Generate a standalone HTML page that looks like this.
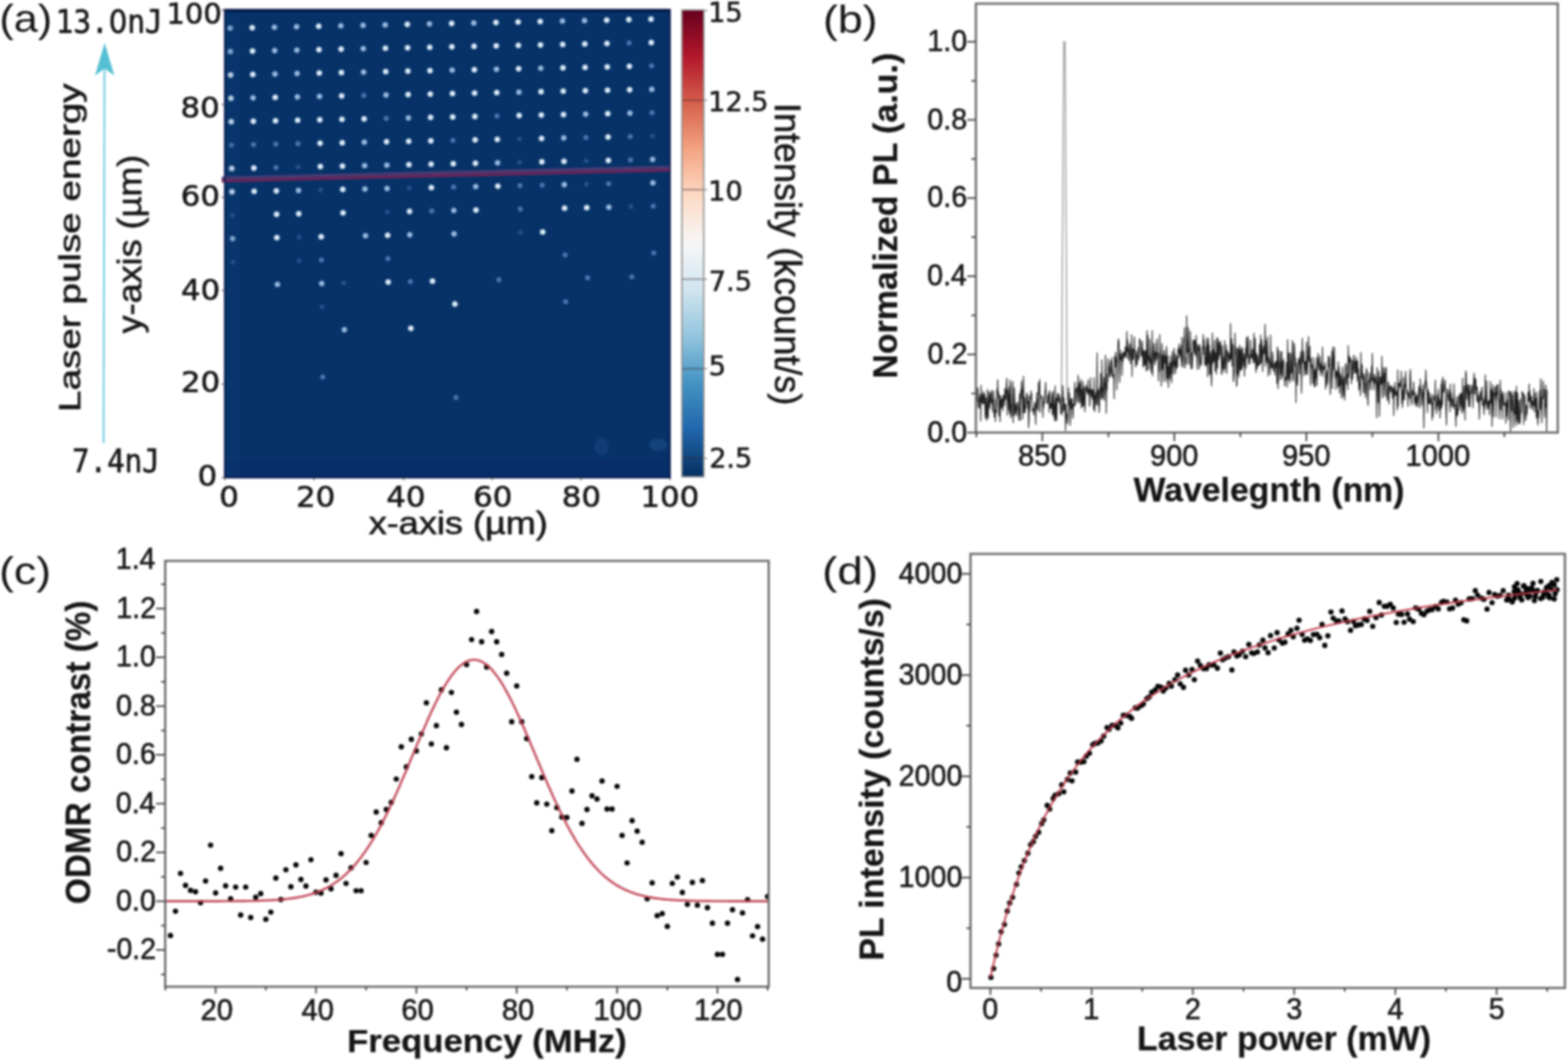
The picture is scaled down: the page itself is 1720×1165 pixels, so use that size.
<!DOCTYPE html><html><head><meta charset="utf-8"><title>Figure</title><style>html,body{margin:0;padding:0;background:#fff;overflow:hidden}svg{display:block}.wrap{filter:blur(0.8px)}text{stroke:#151515;stroke-width:0.6px;paint-order:stroke}</style></head><body>
<div class="wrap">
<svg width="1720" height="1165" viewBox="0 0 1720 1165">
<rect width="1720" height="1165" fill="#fff"/>
<defs>
<linearGradient id="cb" x1="0" y1="0" x2="0" y2="1">
<stop offset="0.00" stop-color="rgb(103, 0, 31)"/>
<stop offset="0.10" stop-color="rgb(178, 24, 43)"/>
<stop offset="0.20" stop-color="rgb(214, 96, 77)"/>
<stop offset="0.30" stop-color="rgb(244, 165, 130)"/>
<stop offset="0.40" stop-color="rgb(253, 219, 199)"/>
<stop offset="0.50" stop-color="rgb(247, 247, 247)"/>
<stop offset="0.60" stop-color="rgb(209, 229, 240)"/>
<stop offset="0.70" stop-color="rgb(146, 197, 222)"/>
<stop offset="0.80" stop-color="rgb(67, 147, 195)"/>
<stop offset="0.90" stop-color="rgb(33, 102, 172)"/>
<stop offset="1.00" stop-color="rgb(5, 48, 97)"/>
</linearGradient>
<radialGradient id="d3"><stop offset="0" stop-color="rgb(228, 242, 255)" stop-opacity="1.0"/><stop offset="0.55" stop-color="rgb(228, 242, 255)" stop-opacity="0.95"/><stop offset="1" stop-color="rgb(228, 242, 255)" stop-opacity="0"/></radialGradient>
<radialGradient id="d2"><stop offset="0" stop-color="rgb(165, 198, 235)" stop-opacity="0.95"/><stop offset="0.55" stop-color="rgb(165, 198, 235)" stop-opacity="0.9025"/><stop offset="1" stop-color="rgb(165, 198, 235)" stop-opacity="0"/></radialGradient>
<radialGradient id="d1"><stop offset="0" stop-color="rgb(85, 128, 188)" stop-opacity="0.9"/><stop offset="0.55" stop-color="rgb(85, 128, 188)" stop-opacity="0.855"/><stop offset="1" stop-color="rgb(85, 128, 188)" stop-opacity="0"/></radialGradient>
<radialGradient id="d0"><stop offset="0" stop-color="rgb(45, 88, 148)" stop-opacity="0.85"/><stop offset="0.55" stop-color="rgb(45, 88, 148)" stop-opacity="0.8075"/><stop offset="1" stop-color="rgb(45, 88, 148)" stop-opacity="0"/></radialGradient>
<clipPath id="hclip"><rect x="246.5" y="10.5" width="488.5" height="513.5"/></clipPath>
</defs>
<rect x="246.5" y="10.5" width="488.5" height="513.5" fill="rgb(6,50,104)"/>
<g clip-path="url(#hclip)">
<circle cx="252.4" cy="30.9" r="3.9" fill="url(#d2)"/>
<circle cx="276.7" cy="30.4" r="4.0" fill="url(#d3)"/>
<circle cx="301.0" cy="29.9" r="3.9" fill="url(#d2)"/>
<circle cx="325.3" cy="29.3" r="3.9" fill="url(#d2)"/>
<circle cx="349.6" cy="28.8" r="4.0" fill="url(#d3)"/>
<circle cx="373.9" cy="28.3" r="3.9" fill="url(#d2)"/>
<circle cx="398.2" cy="27.8" r="3.9" fill="url(#d2)"/>
<circle cx="422.5" cy="27.3" r="3.9" fill="url(#d2)"/>
<circle cx="446.8" cy="26.7" r="4.0" fill="url(#d3)"/>
<circle cx="471.1" cy="26.2" r="3.9" fill="url(#d2)"/>
<circle cx="495.4" cy="25.7" r="4.0" fill="url(#d3)"/>
<circle cx="519.7" cy="25.2" r="3.9" fill="url(#d2)"/>
<circle cx="544.0" cy="24.7" r="4.0" fill="url(#d3)"/>
<circle cx="568.3" cy="24.1" r="4.0" fill="url(#d3)"/>
<circle cx="592.6" cy="23.6" r="4.0" fill="url(#d3)"/>
<circle cx="616.9" cy="23.1" r="3.9" fill="url(#d2)"/>
<circle cx="641.2" cy="22.6" r="3.9" fill="url(#d2)"/>
<circle cx="665.5" cy="22.1" r="4.0" fill="url(#d3)"/>
<circle cx="689.8" cy="21.5" r="4.0" fill="url(#d3)"/>
<circle cx="714.1" cy="21.0" r="4.0" fill="url(#d3)"/>
<circle cx="738.4" cy="20.5" r="3.6" fill="url(#d1)"/>
<circle cx="252.7" cy="56.5" r="3.9" fill="url(#d2)"/>
<circle cx="277.0" cy="56.0" r="4.0" fill="url(#d3)"/>
<circle cx="301.3" cy="55.5" r="3.9" fill="url(#d2)"/>
<circle cx="325.6" cy="55.0" r="3.9" fill="url(#d2)"/>
<circle cx="349.9" cy="54.5" r="4.0" fill="url(#d3)"/>
<circle cx="374.2" cy="53.9" r="4.0" fill="url(#d3)"/>
<circle cx="398.5" cy="53.4" r="3.9" fill="url(#d2)"/>
<circle cx="422.8" cy="52.9" r="4.0" fill="url(#d3)"/>
<circle cx="447.1" cy="52.4" r="4.0" fill="url(#d3)"/>
<circle cx="471.4" cy="51.9" r="4.0" fill="url(#d3)"/>
<circle cx="495.7" cy="51.3" r="4.0" fill="url(#d3)"/>
<circle cx="520.0" cy="50.8" r="4.0" fill="url(#d3)"/>
<circle cx="544.3" cy="50.3" r="4.0" fill="url(#d3)"/>
<circle cx="568.6" cy="49.8" r="4.0" fill="url(#d3)"/>
<circle cx="592.9" cy="49.3" r="4.0" fill="url(#d3)"/>
<circle cx="617.2" cy="48.8" r="4.0" fill="url(#d3)"/>
<circle cx="641.5" cy="48.2" r="4.0" fill="url(#d3)"/>
<circle cx="665.8" cy="47.7" r="4.0" fill="url(#d3)"/>
<circle cx="690.1" cy="47.2" r="3.6" fill="url(#d1)"/>
<circle cx="714.4" cy="46.7" r="4.0" fill="url(#d3)"/>
<circle cx="738.7" cy="46.1" r="3.6" fill="url(#d1)"/>
<circle cx="253.0" cy="82.2" r="4.0" fill="url(#d3)"/>
<circle cx="277.3" cy="81.7" r="4.0" fill="url(#d3)"/>
<circle cx="301.6" cy="81.2" r="3.9" fill="url(#d2)"/>
<circle cx="325.9" cy="80.6" r="3.9" fill="url(#d2)"/>
<circle cx="350.2" cy="80.1" r="4.0" fill="url(#d3)"/>
<circle cx="374.5" cy="79.6" r="4.0" fill="url(#d3)"/>
<circle cx="398.8" cy="79.1" r="3.9" fill="url(#d2)"/>
<circle cx="423.1" cy="78.6" r="4.0" fill="url(#d3)"/>
<circle cx="447.4" cy="78.0" r="4.0" fill="url(#d3)"/>
<circle cx="471.7" cy="77.5" r="4.0" fill="url(#d3)"/>
<circle cx="496.0" cy="77.0" r="3.9" fill="url(#d2)"/>
<circle cx="520.3" cy="76.5" r="4.0" fill="url(#d3)"/>
<circle cx="544.6" cy="76.0" r="3.9" fill="url(#d2)"/>
<circle cx="568.9" cy="75.4" r="4.0" fill="url(#d3)"/>
<circle cx="593.2" cy="74.9" r="3.9" fill="url(#d2)"/>
<circle cx="617.5" cy="74.4" r="4.0" fill="url(#d3)"/>
<circle cx="641.8" cy="73.9" r="4.0" fill="url(#d3)"/>
<circle cx="666.1" cy="73.4" r="4.0" fill="url(#d3)"/>
<circle cx="690.4" cy="72.8" r="4.0" fill="url(#d3)"/>
<circle cx="714.7" cy="72.3" r="3.6" fill="url(#d1)"/>
<circle cx="739.0" cy="71.8" r="3.6" fill="url(#d1)"/>
<circle cx="253.3" cy="107.8" r="4.0" fill="url(#d3)"/>
<circle cx="277.6" cy="107.3" r="3.9" fill="url(#d2)"/>
<circle cx="301.9" cy="106.8" r="4.0" fill="url(#d3)"/>
<circle cx="326.2" cy="106.3" r="3.9" fill="url(#d2)"/>
<circle cx="350.5" cy="105.8" r="3.9" fill="url(#d2)"/>
<circle cx="374.8" cy="105.2" r="4.0" fill="url(#d3)"/>
<circle cx="399.1" cy="104.7" r="3.6" fill="url(#d1)"/>
<circle cx="423.4" cy="104.2" r="3.9" fill="url(#d2)"/>
<circle cx="447.7" cy="103.7" r="4.0" fill="url(#d3)"/>
<circle cx="472.0" cy="103.2" r="4.0" fill="url(#d3)"/>
<circle cx="496.3" cy="102.6" r="4.0" fill="url(#d3)"/>
<circle cx="520.6" cy="102.1" r="4.0" fill="url(#d3)"/>
<circle cx="544.9" cy="101.6" r="4.0" fill="url(#d3)"/>
<circle cx="569.2" cy="101.1" r="3.9" fill="url(#d2)"/>
<circle cx="593.5" cy="100.6" r="4.0" fill="url(#d3)"/>
<circle cx="617.8" cy="100.0" r="4.0" fill="url(#d3)"/>
<circle cx="642.1" cy="99.5" r="4.0" fill="url(#d3)"/>
<circle cx="666.4" cy="99.0" r="4.0" fill="url(#d3)"/>
<circle cx="690.7" cy="98.5" r="4.0" fill="url(#d3)"/>
<circle cx="715.0" cy="98.0" r="3.9" fill="url(#d2)"/>
<circle cx="739.3" cy="97.4" r="3.6" fill="url(#d1)"/>
<circle cx="253.6" cy="133.5" r="4.0" fill="url(#d3)"/>
<circle cx="277.9" cy="133.0" r="4.0" fill="url(#d3)"/>
<circle cx="302.2" cy="132.5" r="4.0" fill="url(#d3)"/>
<circle cx="326.5" cy="131.9" r="4.0" fill="url(#d3)"/>
<circle cx="350.8" cy="131.4" r="4.0" fill="url(#d3)"/>
<circle cx="375.1" cy="130.9" r="4.0" fill="url(#d3)"/>
<circle cx="399.4" cy="130.4" r="4.0" fill="url(#d3)"/>
<circle cx="423.7" cy="129.9" r="3.6" fill="url(#d1)"/>
<circle cx="448.0" cy="129.3" r="3.9" fill="url(#d2)"/>
<circle cx="472.3" cy="128.8" r="4.0" fill="url(#d3)"/>
<circle cx="496.6" cy="128.3" r="4.0" fill="url(#d3)"/>
<circle cx="520.9" cy="127.8" r="4.0" fill="url(#d3)"/>
<circle cx="545.2" cy="127.3" r="3.6" fill="url(#d1)"/>
<circle cx="569.5" cy="126.7" r="4.0" fill="url(#d3)"/>
<circle cx="593.8" cy="126.2" r="4.0" fill="url(#d3)"/>
<circle cx="618.1" cy="125.7" r="4.0" fill="url(#d3)"/>
<circle cx="642.4" cy="125.2" r="3.9" fill="url(#d2)"/>
<circle cx="666.7" cy="124.7" r="4.0" fill="url(#d3)"/>
<circle cx="691.0" cy="124.1" r="3.9" fill="url(#d2)"/>
<circle cx="715.3" cy="123.6" r="3.6" fill="url(#d1)"/>
<circle cx="253.9" cy="159.2" r="3.6" fill="url(#d1)"/>
<circle cx="278.2" cy="158.6" r="3.6" fill="url(#d1)"/>
<circle cx="302.5" cy="158.1" r="3.6" fill="url(#d1)"/>
<circle cx="326.8" cy="157.6" r="3.6" fill="url(#d1)"/>
<circle cx="351.1" cy="157.1" r="4.0" fill="url(#d3)"/>
<circle cx="375.4" cy="156.6" r="4.0" fill="url(#d3)"/>
<circle cx="399.7" cy="156.0" r="3.9" fill="url(#d2)"/>
<circle cx="424.0" cy="155.5" r="4.0" fill="url(#d3)"/>
<circle cx="448.3" cy="155.0" r="4.0" fill="url(#d3)"/>
<circle cx="472.6" cy="154.5" r="4.0" fill="url(#d3)"/>
<circle cx="496.9" cy="154.0" r="3.6" fill="url(#d1)"/>
<circle cx="521.2" cy="153.4" r="4.0" fill="url(#d3)"/>
<circle cx="545.5" cy="152.9" r="4.0" fill="url(#d3)"/>
<circle cx="569.8" cy="152.4" r="3.4" fill="url(#d0)"/>
<circle cx="594.1" cy="151.9" r="4.0" fill="url(#d3)"/>
<circle cx="618.4" cy="151.3" r="3.9" fill="url(#d2)"/>
<circle cx="642.7" cy="150.8" r="3.6" fill="url(#d1)"/>
<circle cx="667.0" cy="150.3" r="4.0" fill="url(#d3)"/>
<circle cx="691.3" cy="149.8" r="3.6" fill="url(#d1)"/>
<circle cx="715.6" cy="149.3" r="3.4" fill="url(#d0)"/>
<circle cx="254.2" cy="184.8" r="4.0" fill="url(#d3)"/>
<circle cx="278.5" cy="184.3" r="4.0" fill="url(#d3)"/>
<circle cx="302.8" cy="183.8" r="3.6" fill="url(#d1)"/>
<circle cx="327.1" cy="183.2" r="3.4" fill="url(#d0)"/>
<circle cx="351.4" cy="182.7" r="4.0" fill="url(#d3)"/>
<circle cx="375.7" cy="182.2" r="4.0" fill="url(#d3)"/>
<circle cx="400.0" cy="181.7" r="3.9" fill="url(#d2)"/>
<circle cx="424.3" cy="181.2" r="3.9" fill="url(#d2)"/>
<circle cx="448.6" cy="180.6" r="4.0" fill="url(#d3)"/>
<circle cx="472.9" cy="180.1" r="4.0" fill="url(#d3)"/>
<circle cx="497.2" cy="179.6" r="4.0" fill="url(#d3)"/>
<circle cx="521.5" cy="179.1" r="4.0" fill="url(#d3)"/>
<circle cx="545.8" cy="178.6" r="3.9" fill="url(#d2)"/>
<circle cx="570.1" cy="178.0" r="3.4" fill="url(#d0)"/>
<circle cx="594.4" cy="177.5" r="4.0" fill="url(#d3)"/>
<circle cx="618.7" cy="177.0" r="4.0" fill="url(#d3)"/>
<circle cx="643.0" cy="176.5" r="3.4" fill="url(#d0)"/>
<circle cx="667.3" cy="176.0" r="4.0" fill="url(#d3)"/>
<circle cx="691.6" cy="175.4" r="3.6" fill="url(#d1)"/>
<circle cx="715.9" cy="174.9" r="3.9" fill="url(#d2)"/>
<circle cx="254.5" cy="210.4" r="4.0" fill="url(#d3)"/>
<circle cx="278.8" cy="209.9" r="4.0" fill="url(#d3)"/>
<circle cx="303.1" cy="209.4" r="4.0" fill="url(#d3)"/>
<circle cx="327.4" cy="208.9" r="3.9" fill="url(#d2)"/>
<circle cx="351.7" cy="208.4" r="3.4" fill="url(#d0)"/>
<circle cx="376.0" cy="207.8" r="4.0" fill="url(#d3)"/>
<circle cx="400.3" cy="207.3" r="3.9" fill="url(#d2)"/>
<circle cx="424.6" cy="206.8" r="3.9" fill="url(#d2)"/>
<circle cx="448.9" cy="206.3" r="3.4" fill="url(#d0)"/>
<circle cx="473.2" cy="205.8" r="4.0" fill="url(#d3)"/>
<circle cx="497.5" cy="205.2" r="3.6" fill="url(#d1)"/>
<circle cx="521.8" cy="204.7" r="3.9" fill="url(#d2)"/>
<circle cx="546.1" cy="204.2" r="4.0" fill="url(#d3)"/>
<circle cx="570.4" cy="203.7" r="3.6" fill="url(#d1)"/>
<circle cx="594.7" cy="203.2" r="3.6" fill="url(#d1)"/>
<circle cx="619.0" cy="202.6" r="3.9" fill="url(#d2)"/>
<circle cx="643.3" cy="202.1" r="3.4" fill="url(#d0)"/>
<circle cx="667.6" cy="201.6" r="3.6" fill="url(#d1)"/>
<circle cx="716.2" cy="200.6" r="3.9" fill="url(#d2)"/>
<circle cx="254.8" cy="236.1" r="3.4" fill="url(#d0)"/>
<circle cx="303.4" cy="235.1" r="4.0" fill="url(#d3)"/>
<circle cx="327.7" cy="234.5" r="4.0" fill="url(#d3)"/>
<circle cx="376.3" cy="233.5" r="4.0" fill="url(#d3)"/>
<circle cx="424.9" cy="232.5" r="3.4" fill="url(#d0)"/>
<circle cx="449.2" cy="231.9" r="4.0" fill="url(#d3)"/>
<circle cx="473.5" cy="231.4" r="3.6" fill="url(#d1)"/>
<circle cx="497.8" cy="230.9" r="3.9" fill="url(#d2)"/>
<circle cx="522.1" cy="230.4" r="4.0" fill="url(#d3)"/>
<circle cx="570.7" cy="229.3" r="3.6" fill="url(#d1)"/>
<circle cx="619.3" cy="228.3" r="4.0" fill="url(#d3)"/>
<circle cx="643.6" cy="227.8" r="4.0" fill="url(#d3)"/>
<circle cx="667.9" cy="227.3" r="3.9" fill="url(#d2)"/>
<circle cx="692.2" cy="226.7" r="3.4" fill="url(#d0)"/>
<circle cx="716.5" cy="226.2" r="3.6" fill="url(#d1)"/>
<circle cx="255.1" cy="261.8" r="3.9" fill="url(#d2)"/>
<circle cx="303.7" cy="260.7" r="4.0" fill="url(#d3)"/>
<circle cx="328.0" cy="260.2" r="3.4" fill="url(#d0)"/>
<circle cx="352.3" cy="259.7" r="4.0" fill="url(#d3)"/>
<circle cx="400.9" cy="258.6" r="3.9" fill="url(#d2)"/>
<circle cx="425.2" cy="258.1" r="4.0" fill="url(#d3)"/>
<circle cx="449.5" cy="257.6" r="3.9" fill="url(#d2)"/>
<circle cx="498.1" cy="256.6" r="3.9" fill="url(#d2)"/>
<circle cx="571.0" cy="255.0" r="3.4" fill="url(#d0)"/>
<circle cx="595.3" cy="254.5" r="4.0" fill="url(#d3)"/>
<circle cx="255.4" cy="287.4" r="3.4" fill="url(#d0)"/>
<circle cx="328.3" cy="285.8" r="3.4" fill="url(#d0)"/>
<circle cx="352.6" cy="285.3" r="3.6" fill="url(#d1)"/>
<circle cx="425.5" cy="283.8" r="3.6" fill="url(#d1)"/>
<circle cx="619.9" cy="279.6" r="3.6" fill="url(#d1)"/>
<circle cx="717.1" cy="277.5" r="3.6" fill="url(#d1)"/>
<circle cx="304.3" cy="312.0" r="3.9" fill="url(#d2)"/>
<circle cx="352.9" cy="311.0" r="3.9" fill="url(#d2)"/>
<circle cx="377.2" cy="310.4" r="3.4" fill="url(#d0)"/>
<circle cx="425.8" cy="309.4" r="4.0" fill="url(#d3)"/>
<circle cx="450.1" cy="308.9" r="3.6" fill="url(#d1)"/>
<circle cx="474.4" cy="308.4" r="4.0" fill="url(#d3)"/>
<circle cx="547.3" cy="306.8" r="3.6" fill="url(#d1)"/>
<circle cx="644.5" cy="304.7" r="3.6" fill="url(#d1)"/>
<circle cx="693.1" cy="303.7" r="3.6" fill="url(#d1)"/>
<circle cx="353.2" cy="336.6" r="3.4" fill="url(#d0)"/>
<circle cx="499.0" cy="333.5" r="4.0" fill="url(#d3)"/>
<circle cx="620.5" cy="330.9" r="3.6" fill="url(#d1)"/>
<circle cx="377.8" cy="361.7" r="3.9" fill="url(#d2)"/>
<circle cx="450.7" cy="360.2" r="4.0" fill="url(#d3)"/>
<circle cx="354.1" cy="413.6" r="3.6" fill="url(#d1)"/>
<circle cx="500.2" cy="436.1" r="3.6" fill="url(#d1)"/>
<rect x="248" y="10.5" width="15" height="513" fill="rgb(20,70,125)" opacity="0.18"/>
<rect x="246.5" y="505" width="489" height="19" fill="rgb(12,40,110)" opacity="0.35"/>
<rect x="246.5" y="10.5" width="489" height="3.5" fill="rgb(4,25,70)" opacity="0.6"/>
<ellipse cx="660" cy="490" rx="8" ry="10" fill="rgb(40,90,150)" opacity="0.3"/>
<ellipse cx="722" cy="488" rx="10" ry="7" fill="rgb(40,90,150)" opacity="0.4"/>
</g>
<line x1="243" y1="195.3" x2="735" y2="183.3" stroke="rgb(82,62,118)" stroke-width="3.2" opacity="0.9"/>
<line x1="243" y1="198.6" x2="735" y2="186.6" stroke="rgb(112,36,88)" stroke-width="3.4" opacity="0.92"/>
<rect x="246.5" y="10.5" width="488.5" height="513.5" fill="none" stroke="rgb(8,20,70)" stroke-width="1.6"/>
<line x1="243" y1="524" x2="246.5" y2="524" stroke="#444" stroke-width="1"/>
<line x1="243" y1="421.4" x2="246.5" y2="421.4" stroke="#444" stroke-width="1"/>
<line x1="243" y1="318.7" x2="246.5" y2="318.7" stroke="#444" stroke-width="1"/>
<line x1="243" y1="216.4" x2="246.5" y2="216.4" stroke="#444" stroke-width="1"/>
<line x1="243" y1="114.6" x2="246.5" y2="114.6" stroke="#444" stroke-width="1"/>
<line x1="243" y1="11" x2="246.5" y2="11" stroke="#444" stroke-width="1"/>
<line x1="246.5" y1="524" x2="246.5" y2="527" stroke="#444" stroke-width="1"/>
<line x1="344.4" y1="524" x2="344.4" y2="527" stroke="#444" stroke-width="1"/>
<line x1="442.8" y1="524" x2="442.8" y2="527" stroke="#444" stroke-width="1"/>
<line x1="540" y1="524" x2="540" y2="527" stroke="#444" stroke-width="1"/>
<line x1="637.4" y1="524" x2="637.4" y2="527" stroke="#444" stroke-width="1"/>
<line x1="735" y1="524" x2="735" y2="527" stroke="#444" stroke-width="1"/>
<text x="216.83" y="533.02" style="font-family:'DejaVu Sans',Verdana,sans-serif;font-size:32.50px" textLength="21.51" lengthAdjust="spacingAndGlyphs" fill="#151515">0</text>
<text x="198.44" y="429.72" style="font-family:'DejaVu Sans',Verdana,sans-serif;font-size:32.50px" textLength="43.01" lengthAdjust="spacingAndGlyphs" fill="#151515">20</text>
<text x="198.44" y="328.52" style="font-family:'DejaVu Sans',Verdana,sans-serif;font-size:32.50px" textLength="43.01" lengthAdjust="spacingAndGlyphs" fill="#151515">40</text>
<text x="198.34" y="226.03" style="font-family:'DejaVu Sans',Verdana,sans-serif;font-size:32.50px" textLength="43.01" lengthAdjust="spacingAndGlyphs" fill="#151515">60</text>
<text x="198.04" y="128.93" style="font-family:'DejaVu Sans',Verdana,sans-serif;font-size:32.50px" textLength="43.01" lengthAdjust="spacingAndGlyphs" fill="#151515">80</text>
<text x="182.40" y="26.02" style="font-family:'DejaVu Sans',Verdana,sans-serif;font-size:32.50px" textLength="61.10" lengthAdjust="spacingAndGlyphs" fill="#151515">100</text>
<text x="240.48" y="556.12" style="font-family:'DejaVu Sans',Verdana,sans-serif;font-size:32.50px" textLength="21.51" lengthAdjust="spacingAndGlyphs" fill="#151515">0</text>
<text x="324.74" y="556.12" style="font-family:'DejaVu Sans',Verdana,sans-serif;font-size:32.50px" textLength="43.01" lengthAdjust="spacingAndGlyphs" fill="#151515">20</text>
<text x="423.77" y="556.12" style="font-family:'DejaVu Sans',Verdana,sans-serif;font-size:32.50px" textLength="43.01" lengthAdjust="spacingAndGlyphs" fill="#151515">40</text>
<text x="519.04" y="556.12" style="font-family:'DejaVu Sans',Verdana,sans-serif;font-size:32.50px" textLength="43.01" lengthAdjust="spacingAndGlyphs" fill="#151515">60</text>
<text x="616.24" y="556.12" style="font-family:'DejaVu Sans',Verdana,sans-serif;font-size:32.50px" textLength="43.01" lengthAdjust="spacingAndGlyphs" fill="#151515">80</text>
<text x="702.44" y="556.12" style="font-family:'DejaVu Sans',Verdana,sans-serif;font-size:32.50px" textLength="64.52" lengthAdjust="spacingAndGlyphs" fill="#151515">100</text>
<text x="404.40" y="585.79" style="font-family:'Liberation Sans',Arial,sans-serif;font-size:34.79px" textLength="196.54" lengthAdjust="spacingAndGlyphs" fill="#151515" >x-axis (µm)</text>
<text transform="translate(154.90,365.70) rotate(-90)" x="0" y="0" style="font-family:'Liberation Sans',Arial,sans-serif;font-size:36.17px" textLength="195.94" lengthAdjust="spacingAndGlyphs" fill="#151515">y-axis (µm)</text>
<text transform="translate(88.41,451.89) rotate(-90)" x="0" y="0" style="font-family:'Liberation Sans',Arial,sans-serif;font-size:32.34px" textLength="360.42" lengthAdjust="spacingAndGlyphs" fill="#151515">Laser pulse energy</text>
<line x1="113.6" y1="486" x2="114.6" y2="70" stroke="rgb(125,208,228)" stroke-width="2.2"/>
<path d="M114.8,47 L125.5,83 L114.8,75 L104.2,83 Z" fill="rgb(85,192,212)"/>
<text x="-0.76" y="35.20" style="font-family:'Liberation Sans',Arial,sans-serif;font-size:42.87px;stroke-width:0" textLength="58.22" lengthAdjust="spacingAndGlyphs" fill="#151515" >(a)</text>
<text x="61.00" y="35.54" style="font-family:'DejaVu Sans Mono',monospace;font-size:36.32px" textLength="117.40" lengthAdjust="spacingAndGlyphs" fill="#151515" >13.<tspan style="font-family:'DejaVu Sans',sans-serif">0</tspan>nJ</text>
<text x="78.96" y="517.65" style="font-family:'DejaVu Sans Mono',monospace;font-size:35.27px" textLength="96.33" lengthAdjust="spacingAndGlyphs" fill="#151515" >7.4nJ</text>
<rect x="748" y="11" width="24" height="512" fill="url(#cb)"/>
<line x1="772" y1="11.7" x2="776" y2="11.7" stroke="#777" stroke-width="1"/>
<text x="776.72" y="23.53" style="font-family:'DejaVu Sans',Verdana,sans-serif;font-size:29.8px" fill="#151515">15</text>
<line x1="748" y1="109.9" x2="772" y2="109.9" stroke="rgba(60,40,40,0.5)" stroke-width="1.5"/>
<line x1="772" y1="109.9" x2="776" y2="109.9" stroke="#777" stroke-width="1"/>
<text x="776.72" y="122.38" style="font-family:'DejaVu Sans',Verdana,sans-serif;font-size:29.8px" fill="#151515">12.5</text>
<line x1="748" y1="208.1" x2="772" y2="208.1" stroke="rgba(60,40,40,0.5)" stroke-width="1.5"/>
<line x1="772" y1="208.1" x2="776" y2="208.1" stroke="#777" stroke-width="1"/>
<text x="776.72" y="219.63" style="font-family:'DejaVu Sans',Verdana,sans-serif;font-size:29.8px" fill="#151515">10</text>
<line x1="748" y1="306.3" x2="772" y2="306.3" stroke="rgba(60,40,40,0.5)" stroke-width="1.5"/>
<line x1="772" y1="306.3" x2="776" y2="306.3" stroke="#777" stroke-width="1"/>
<text x="777.62" y="319.23" style="font-family:'DejaVu Sans',Verdana,sans-serif;font-size:29.8px" fill="#151515">7.5</text>
<line x1="748" y1="404.5" x2="772" y2="404.5" stroke="rgba(60,40,40,0.5)" stroke-width="1.5"/>
<line x1="772" y1="404.5" x2="776" y2="404.5" stroke="#777" stroke-width="1"/>
<text x="777.62" y="412.03" style="font-family:'DejaVu Sans',Verdana,sans-serif;font-size:29.8px" fill="#151515">5</text>
<line x1="748" y1="502.7" x2="772" y2="502.7" stroke="rgba(60,40,40,0.5)" stroke-width="1.5"/>
<line x1="772" y1="502.7" x2="776" y2="502.7" stroke="#777" stroke-width="1"/>
<text x="777.91" y="512.98" style="font-family:'DejaVu Sans',Verdana,sans-serif;font-size:29.8px" fill="#151515">2.5</text>
<rect x="748" y="11" width="24" height="512" fill="none" stroke="#8c8c8c" stroke-width="1.5"/>
<text transform="translate(850.28,112.94) rotate(90)" x="0" y="0" style="font-family:'Liberation Sans',Arial,sans-serif;font-size:40.85px" textLength="331.61" lengthAdjust="spacingAndGlyphs" fill="#151515">Intensity (kcount/s)</text>
<polyline points="1071.87,441.06 1072.30,424.98 1072.74,426.34 1073.17,446.92 1073.61,444.89 1074.04,448.31 1074.48,434.98 1074.91,442.24 1075.34,431.75 1075.78,462.58 1076.21,422.22 1076.65,441.83 1077.08,431.97 1077.52,440.59 1077.95,443.74 1078.38,434.04 1078.82,429.12 1079.25,442.24 1079.69,441.39 1080.12,431.66 1080.56,450.70 1080.99,459.11 1081.43,435.50 1081.86,447.62 1082.29,461.57 1082.73,450.10 1083.16,426.66 1083.60,456.05 1084.03,459.43 1084.47,440.29 1084.90,429.13 1085.34,442.62 1085.77,448.58 1086.20,435.43 1086.64,430.67 1087.07,442.23 1087.51,432.26 1087.94,427.88 1088.38,444.26 1088.81,452.14 1089.24,438.16 1089.68,439.91 1090.11,428.60 1090.55,457.80 1090.98,449.64 1091.42,452.51 1091.85,462.69 1092.29,441.32 1092.72,437.30 1093.15,453.00 1093.59,426.57 1094.02,432.29 1094.46,416.23 1094.89,437.07 1095.33,429.55 1095.76,457.11 1096.20,433.44 1096.63,433.88 1097.06,462.99 1097.50,438.88 1097.93,446.50 1098.37,434.21 1098.80,448.09 1099.24,442.48 1099.67,436.98 1100.10,450.96 1100.54,432.68 1100.97,441.58 1101.41,433.60 1101.84,445.84 1102.28,426.12 1102.71,430.36 1103.15,438.91 1103.58,428.82 1104.01,421.31 1104.45,414.60 1104.88,456.13 1105.32,427.15 1105.75,431.98 1106.19,439.24 1106.62,450.39 1107.06,423.79 1107.49,454.26 1107.92,416.46 1108.36,423.73 1108.79,458.91 1109.23,443.37 1109.66,456.12 1110.10,437.79 1110.53,423.66 1110.96,418.08 1111.40,464.24 1111.83,450.21 1112.27,456.72 1112.70,425.13 1113.14,439.55 1113.57,454.83 1114.01,442.57 1114.44,447.21 1114.87,449.40 1115.31,456.20 1115.74,441.96 1116.18,441.46 1116.61,446.80 1117.05,448.61 1117.48,460.89 1117.92,451.36 1118.35,431.55 1118.78,447.81 1119.22,461.95 1119.65,427.78 1120.09,437.39 1120.52,417.42 1120.96,427.38 1121.39,427.46 1121.82,460.00 1122.26,426.92 1122.69,412.63 1123.13,453.52 1123.56,450.41 1124.00,435.23 1124.43,452.97 1124.87,446.19 1125.30,447.05 1125.73,441.04 1126.17,430.58 1126.60,442.67 1127.04,432.49 1127.47,448.05 1127.91,440.08 1128.34,469.58 1128.78,461.99 1129.21,434.06 1129.64,451.82 1130.08,436.78 1130.51,438.30 1130.95,428.24 1131.38,433.92 1131.82,432.02 1132.25,445.91 1132.68,451.02 1133.12,450.74 1133.55,447.94 1133.99,455.76 1134.42,449.93 1134.86,444.96 1135.29,440.94 1135.73,447.25 1136.16,466.05 1136.59,443.74 1137.03,440.15 1137.46,430.36 1137.90,448.87 1138.33,436.90 1138.77,451.35 1139.20,419.57 1139.64,434.03 1140.07,421.16 1140.50,415.89 1140.94,452.68 1141.37,437.06 1141.81,436.15 1142.24,435.05 1142.68,433.53 1143.11,436.85 1143.54,437.91 1143.98,458.36 1144.41,440.77 1144.85,447.47 1145.28,435.32 1145.72,443.04 1146.15,430.19 1146.59,428.03 1147.02,419.11 1147.45,434.17 1147.89,436.43 1148.32,442.68 1148.76,440.04 1149.19,443.01 1149.63,433.37 1150.06,437.29 1150.50,430.36 1150.93,452.90 1151.36,428.01 1151.80,447.85 1152.23,447.29 1152.67,442.38 1153.10,448.11 1153.54,438.20 1153.97,430.66 1154.40,455.42 1154.84,453.04 1155.27,428.29 1155.71,441.74 1156.14,457.86 1156.58,442.82 1157.01,461.91 1157.45,422.88 1157.88,462.01 1158.31,437.57 1158.75,436.67 1159.18,461.56 1159.62,439.13 1160.05,431.14 1160.49,438.18 1160.92,440.14 1161.36,432.07 1161.79,441.85 1162.22,438.99 1162.66,444.18 1163.09,435.40 1163.53,454.11 1163.96,433.27 1164.40,448.60 1164.83,455.72 1165.26,438.00 1165.70,422.44 1166.13,431.86 1166.57,452.13 1167.00,435.92 1167.44,449.75 1167.87,444.95 1168.31,442.82 1168.74,472.74 1169.17,442.65 1169.61,457.60 1170.04,453.15 1170.48,463.75 1170.91,464.49 1171.35,456.66 1171.78,435.49 1172.22,425.06 1172.65,444.46 1173.08,430.81 1173.52,457.98 1173.95,466.99 1174.39,440.87 1174.82,436.83 1175.26,448.68 1175.69,440.21 1176.12,436.56 1176.56,454.00 1176.99,459.15 1177.43,443.12 1177.86,444.55 1178.30,445.74 1178.73,428.22 1179.17,418.87 1179.60,444.93 1180.03,430.88 1180.47,426.93 1180.90,428.88 1181.34,424.56 1181.77,441.22 1182.21,427.33 1182.64,411.27 1183.08,424.42 1183.51,442.50 1183.94,426.98 1184.38,419.30 1184.81,429.14 1185.25,441.39 1185.68,415.82 1186.12,447.99 1186.55,426.77 1186.98,432.72 1187.42,446.37 1187.85,418.01 1188.29,428.38 1188.72,445.72 1189.16,424.15 1189.59,436.85 1190.03,451.99 1190.46,437.21 1190.89,425.78 1191.33,422.08 1191.76,428.76 1192.20,429.70 1192.63,425.12 1193.07,433.41 1193.50,416.58 1193.94,431.31 1194.37,429.22 1194.80,426.65 1195.24,446.07 1195.67,441.77 1196.11,413.89 1196.54,427.72 1196.98,434.42 1197.41,426.93 1197.84,436.72 1198.28,427.16 1198.71,438.94 1199.15,427.45 1199.58,449.47 1200.02,413.90 1200.45,437.34 1200.89,451.92 1201.32,434.94 1201.75,435.70 1202.19,429.74 1202.62,443.89 1203.06,426.36 1203.49,386.66 1203.93,445.30 1204.36,426.18 1204.80,432.93 1205.23,427.98 1205.66,453.00 1206.10,443.46 1206.53,424.08 1206.97,430.55 1207.40,409.26 1207.84,437.97 1208.27,426.52 1208.70,394.21 1209.14,436.96 1209.57,436.24 1210.01,425.74 1210.44,424.91 1210.88,413.59 1211.31,439.64 1211.75,430.86 1212.18,418.32 1212.61,389.20 1213.05,405.27 1213.48,453.77 1213.92,420.35 1214.35,428.37 1214.79,410.11 1215.22,419.09 1215.66,393.20 1216.09,403.12 1216.52,402.03 1216.96,410.95 1217.39,414.10 1217.83,407.47 1218.26,395.32 1218.70,402.92 1219.13,412.65 1219.56,391.76 1220.00,403.62 1220.43,406.74 1220.87,414.39 1221.30,410.97 1221.74,411.47 1222.17,437.89 1222.61,390.44 1223.04,394.32 1223.47,402.87 1223.91,386.11 1224.34,393.74 1224.78,394.16 1225.21,427.90 1225.65,399.26 1226.08,389.69 1226.52,374.86 1226.95,371.51 1227.38,376.16 1227.82,408.25 1228.25,420.10 1228.69,388.33 1229.12,395.17 1229.56,383.84 1229.99,395.23 1230.42,390.44 1230.86,412.35 1231.29,387.56 1231.73,397.13 1232.16,387.34 1232.60,385.83 1233.03,393.01 1233.47,386.40 1233.90,390.46 1234.33,380.14 1234.77,382.01 1235.20,392.68 1235.64,391.62 1236.07,363.36 1236.51,386.35 1236.94,373.09 1237.38,381.74 1237.81,393.46 1238.24,395.48 1238.68,383.01 1239.11,380.73 1239.55,376.74 1239.98,399.26 1240.42,390.59 1240.85,386.59 1241.28,366.74 1241.72,413.62 1242.15,382.29 1242.59,394.62 1243.02,382.82 1243.46,394.59 1243.89,383.37 1244.33,369.15 1244.76,384.72 1245.19,384.76 1245.63,402.84 1246.06,399.72 1246.50,384.74 1246.93,393.25 1247.37,400.42 1247.80,390.56 1248.24,391.89 1248.67,380.68 1249.10,389.78 1249.54,395.55 1249.97,371.28 1250.41,376.18 1250.84,372.74 1251.28,380.98 1251.71,388.61 1252.14,391.42 1252.58,389.24 1253.01,374.00 1253.45,383.57 1253.88,403.19 1254.32,384.69 1254.75,401.72 1255.19,383.57 1255.62,399.53 1256.05,400.58 1256.49,384.68 1256.92,386.92 1257.36,407.17 1257.79,379.29 1258.23,362.22 1258.66,406.53 1259.10,367.36 1259.53,395.54 1259.96,393.12 1260.40,390.18 1260.83,405.69 1261.27,371.82 1261.70,381.83 1262.14,398.91 1262.57,393.57 1263.00,409.40 1263.44,395.13 1263.87,362.38 1264.31,412.64 1264.74,397.47 1265.18,390.75 1265.61,380.13 1266.05,376.15 1266.48,397.21 1266.91,400.58 1267.35,385.96 1267.78,396.13 1268.22,395.10 1268.65,378.23 1269.09,371.50 1269.52,389.03 1269.96,393.83 1270.39,387.03 1270.82,418.29 1271.26,395.89 1271.69,407.90 1272.13,366.74 1272.56,386.27 1273.00,391.48 1273.43,396.08 1273.86,423.97 1274.30,388.20 1274.73,376.53 1275.17,405.48 1275.60,389.45 1276.04,390.86 1276.47,418.80 1276.91,389.04 1277.34,384.06 1277.77,396.15 1278.21,399.50 1278.64,390.22 1279.08,419.40 1279.51,379.44 1279.95,387.21 1280.38,415.73 1280.82,390.09 1281.25,406.63 1281.68,425.61 1282.12,402.04 1282.55,413.19 1282.99,397.73 1283.42,416.43 1283.86,390.09 1284.29,409.96 1284.72,397.55 1285.16,420.42 1285.59,404.13 1286.03,385.23 1286.46,395.95 1286.90,401.41 1287.33,411.13 1287.77,381.80 1288.20,388.05 1288.63,401.95 1289.07,395.77 1289.50,409.94 1289.94,388.47 1290.37,404.78 1290.81,391.66 1291.24,390.69 1291.68,403.37 1292.11,384.18 1292.54,381.45 1292.98,387.84 1293.41,376.94 1293.85,392.93 1294.28,389.85 1294.72,383.02 1295.15,389.38 1295.58,378.46 1296.02,402.13 1296.45,369.68 1296.89,396.80 1297.32,390.02 1297.76,403.46 1298.19,378.93 1298.63,371.89 1299.06,372.77 1299.49,359.00 1299.93,403.92 1300.36,394.24 1300.80,391.59 1301.23,399.49 1301.67,345.89 1302.10,385.77 1302.54,386.46 1302.97,381.19 1303.40,358.75 1303.84,399.48 1304.27,399.48 1304.71,382.94 1305.14,384.98 1305.58,363.04 1306.01,375.57 1306.44,405.03 1306.88,395.02 1307.31,386.63 1307.75,404.82 1308.18,393.48 1308.62,375.40 1309.05,373.38 1309.49,372.16 1309.92,385.33 1310.35,387.69 1310.79,373.02 1311.22,390.69 1311.66,381.31 1312.09,367.44 1312.53,388.49 1312.96,392.56 1313.40,405.60 1313.83,377.70 1314.26,380.02 1314.70,385.03 1315.13,380.13 1315.57,405.25 1316.00,377.24 1316.44,383.13 1316.87,397.16 1317.30,401.38 1317.74,399.31 1318.17,395.97 1318.61,386.60 1319.04,380.27 1319.48,383.41 1319.91,366.46 1320.35,389.55 1320.78,372.27 1321.21,385.22 1321.65,401.42 1322.08,391.52 1322.52,400.00 1322.95,379.40 1323.39,401.84 1323.82,370.34 1324.26,382.14 1324.69,413.84 1325.12,380.93 1325.56,371.08 1325.99,399.08 1326.43,378.21 1326.86,411.58 1327.30,388.34 1327.73,410.51 1328.16,385.00 1328.60,413.13 1329.03,423.84 1329.47,387.53 1329.90,365.01 1330.34,399.64 1330.77,382.92 1331.21,391.05 1331.64,396.93 1332.07,384.49 1332.51,372.78 1332.94,407.74 1333.38,386.68 1333.81,389.34 1334.25,410.65 1334.68,375.48 1335.12,369.75 1335.55,404.31 1335.98,371.41 1336.42,391.20 1336.85,394.77 1337.29,375.34 1337.72,390.43 1338.16,388.79 1338.59,373.90 1339.02,377.74 1339.46,382.82 1339.89,409.67 1340.33,411.22 1340.76,378.72 1341.20,404.00 1341.63,390.58 1342.07,405.99 1342.50,394.97 1342.93,408.38 1343.37,373.30 1343.80,404.74 1344.24,393.91 1344.67,394.95 1345.11,378.12 1345.54,410.01 1345.98,393.50 1346.41,383.93 1346.84,387.09 1347.28,387.21 1347.71,397.60 1348.15,388.50 1348.58,396.94 1349.02,386.90 1349.45,395.57 1349.88,354.46 1350.32,393.98 1350.75,389.81 1351.19,371.61 1351.62,401.87 1352.06,390.86 1352.49,377.25 1352.93,419.01 1353.36,415.45 1353.79,409.69 1354.23,395.69 1354.66,364.96 1355.10,389.73 1355.53,379.75 1355.97,397.80 1356.40,423.25 1356.84,422.61 1357.27,381.86 1357.70,391.01 1358.14,410.89 1358.57,382.00 1359.01,414.16 1359.44,381.49 1359.88,378.20 1360.31,404.44 1360.74,407.06 1361.18,383.87 1361.61,405.72 1362.05,381.63 1362.48,404.99 1362.92,380.75 1363.35,390.22 1363.79,397.14 1364.22,401.88 1364.65,387.68 1365.09,413.13 1365.52,392.91 1365.96,394.45 1366.39,381.55 1366.83,404.27 1367.26,369.84 1367.70,393.26 1368.13,390.13 1368.56,372.79 1369.00,368.74 1369.43,391.10 1369.87,400.20 1370.30,389.52 1370.74,398.85 1371.17,394.39 1371.60,372.83 1372.04,386.89 1372.47,390.69 1372.91,389.95 1373.34,393.84 1373.78,383.81 1374.21,382.87 1374.65,398.63 1375.08,392.88 1375.51,365.23 1375.95,390.26 1376.38,398.09 1376.82,370.57 1377.25,395.37 1377.69,409.01 1378.12,386.69 1378.56,405.13 1378.99,400.92 1379.42,389.32 1379.86,394.42 1380.29,402.23 1380.73,399.17 1381.16,399.75 1381.60,377.15 1382.03,399.91 1382.46,398.30 1382.90,367.21 1383.33,398.34 1383.77,372.44 1384.20,375.61 1384.64,392.85 1385.07,408.00 1385.51,384.14 1385.94,382.11 1386.37,378.99 1386.81,388.92 1387.24,376.69 1387.68,355.43 1388.11,402.32 1388.55,373.13 1388.98,388.15 1389.42,398.31 1389.85,395.11 1390.28,369.25 1390.72,379.28 1391.15,413.11 1391.59,391.69 1392.02,395.11 1392.46,395.36 1392.89,399.85 1393.32,410.89 1393.76,367.32 1394.19,404.56 1394.63,397.75 1395.06,400.94 1395.50,404.01 1395.93,385.74 1396.37,392.15 1396.80,404.00 1397.23,407.58 1397.67,402.74 1398.10,398.41 1398.54,412.07 1398.97,396.15 1399.41,402.06 1399.84,402.90 1400.28,395.74 1400.71,421.15 1401.14,379.94 1401.58,409.84 1402.01,426.71 1402.45,383.34 1402.88,395.43 1403.32,398.68 1403.75,406.21 1404.18,417.18 1404.62,397.06 1405.05,385.78 1405.49,411.23 1405.92,384.96 1406.36,415.45 1406.79,412.69 1407.23,396.00 1407.66,402.50 1408.09,393.56 1408.53,410.48 1408.96,414.47 1409.40,423.94 1409.83,415.34 1410.27,414.13 1410.70,417.18 1411.14,397.16 1411.57,408.44 1412.00,425.00 1412.44,372.19 1412.87,410.79 1413.31,416.69 1413.74,387.40 1414.18,388.10 1414.61,415.53 1415.04,420.08 1415.48,413.84 1415.91,386.98 1416.35,404.27 1416.78,409.82 1417.22,400.77 1417.65,373.10 1418.09,416.82 1418.52,405.73 1418.95,418.68 1419.39,375.96 1419.82,378.90 1420.26,388.65 1420.69,401.75 1421.13,392.32 1421.56,441.97 1422.00,398.08 1422.43,417.18 1422.86,417.13 1423.30,423.04 1423.73,406.00 1424.17,394.62 1424.60,393.50 1425.04,397.74 1425.47,410.70 1425.90,391.09 1426.34,400.11 1426.77,385.32 1427.21,410.96 1427.64,431.62 1428.08,402.74 1428.51,370.86 1428.95,391.02 1429.38,398.18 1429.81,384.83 1430.25,389.47 1430.68,412.55 1431.12,404.43 1431.55,397.29 1431.99,396.06 1432.42,406.82 1432.86,410.96 1433.29,375.09 1433.72,385.83 1434.16,411.29 1434.59,392.51 1435.03,393.08 1435.46,368.65 1435.90,397.17 1436.33,389.02 1436.76,379.52 1437.20,403.76 1437.63,422.78 1438.07,392.33 1438.50,400.86 1438.94,401.81 1439.37,401.17 1439.81,404.66 1440.24,420.98 1440.67,391.74 1441.11,407.27 1441.54,424.48 1441.98,405.39 1442.41,424.54 1442.85,416.04 1443.28,403.76 1443.72,415.12 1444.15,391.95 1444.58,423.42 1445.02,402.17 1445.45,399.26 1445.89,387.32 1446.32,393.52 1446.76,402.91 1447.19,405.92 1447.62,405.70 1448.06,390.62 1448.49,412.23 1448.93,398.00 1449.36,404.38 1449.80,401.73 1450.23,409.30 1450.67,380.19 1451.10,413.60 1451.53,403.64 1451.97,405.62 1452.40,400.78 1452.84,403.26 1453.27,405.44 1453.71,397.31 1454.14,427.19 1454.58,409.68 1455.01,424.36 1455.44,405.91 1455.88,421.49 1456.31,417.76 1456.75,407.02 1457.18,390.09 1457.62,400.23 1458.05,403.17 1458.48,391.62 1458.92,419.71 1459.35,433.11 1459.79,414.11 1460.22,413.34 1460.66,396.01 1461.09,384.68 1461.53,426.70 1461.96,380.53 1462.39,391.25 1462.83,399.81 1463.26,406.51 1463.70,380.63 1464.13,407.28 1464.57,414.67 1465.00,408.50 1465.44,427.51 1465.87,405.29 1466.30,413.36 1466.74,407.60 1467.17,407.94 1467.61,425.30 1468.04,396.55 1468.48,424.21 1468.91,401.96 1469.34,431.62 1469.78,408.53 1470.21,422.77 1470.65,411.47 1471.08,418.63 1471.52,437.21 1471.95,423.78 1472.39,409.37 1472.82,402.22 1473.25,428.35 1473.69,435.50 1474.12,420.68 1474.56,413.50 1474.99,439.38 1475.43,421.64 1475.86,400.62 1476.30,398.70 1476.73,401.19 1477.16,421.75 1477.60,410.30 1478.03,413.85 1478.47,427.73 1478.90,378.85 1479.34,407.69 1479.77,414.59 1480.20,389.93 1480.64,397.30 1481.07,396.13 1481.51,392.45 1481.94,398.98 1482.38,421.52 1482.81,410.81 1483.25,394.80 1483.68,416.33 1484.11,406.39 1484.55,402.89 1484.98,389.31 1485.42,391.44 1485.85,409.41 1486.29,409.09 1486.72,395.44 1487.16,401.10 1487.59,409.56 1488.02,391.60 1488.46,402.45 1488.89,418.86 1489.33,395.83 1489.76,414.60 1490.20,403.92 1490.63,428.29 1491.06,412.43 1491.50,423.04 1491.93,422.78 1492.37,434.56 1492.80,386.36 1493.24,414.78 1493.67,410.57 1494.11,399.56 1494.54,416.64 1494.97,408.89 1495.41,431.00 1495.84,413.61 1496.28,420.30 1496.71,410.07 1497.15,431.91 1497.58,420.63 1498.02,436.54 1498.45,426.06 1498.88,403.67 1499.32,407.87 1499.75,407.63 1500.19,437.06 1500.62,445.22 1501.06,420.93 1501.49,417.14 1501.92,419.64 1502.36,409.03 1502.79,416.13 1503.23,428.18 1503.66,424.15 1504.10,411.98 1504.53,401.50 1504.97,417.32 1505.40,387.31 1505.83,418.60 1506.27,414.21 1506.70,428.18 1507.14,421.76 1507.57,410.76 1508.01,411.16 1508.44,420.79 1508.88,413.32 1509.31,418.44 1509.74,427.60 1510.18,458.69 1510.61,402.88 1511.05,409.38 1511.48,421.38 1511.92,442.17 1512.35,438.40 1512.78,407.17 1513.22,457.25 1513.65,428.02 1514.09,413.32 1514.52,421.39 1514.96,412.90 1515.39,421.96 1515.83,390.39 1516.26,432.42 1516.69,437.11 1517.13,417.32 1517.56,402.81 1518.00,420.05 1518.43,408.65 1518.87,426.33 1519.30,434.92 1519.74,405.08 1520.17,402.68 1520.60,404.00 1521.04,428.95 1521.47,437.98 1521.91,439.61 1522.34,429.03 1522.78,419.06 1523.21,419.60 1523.64,443.45 1524.08,423.44 1524.51,425.17 1524.95,424.69 1525.38,427.30 1525.82,430.89 1526.25,422.30 1526.69,427.82 1527.12,426.52 1527.55,437.31 1527.99,425.02 1528.42,431.17 1528.86,456.12 1529.29,423.88 1529.73,434.76 1530.16,419.13 1530.60,431.76 1531.03,432.69 1531.46,428.51 1531.90,430.67 1532.33,435.20 1532.77,450.25 1533.20,405.48 1533.64,446.50 1534.07,432.12 1534.50,419.99 1534.94,423.76 1535.37,423.29 1535.81,421.46 1536.24,416.05 1536.68,426.50 1537.11,406.73 1537.55,442.42 1537.98,427.61 1538.41,447.49 1538.85,437.39 1539.28,427.25 1539.72,413.22 1540.15,438.52 1540.59,438.43 1541.02,422.01 1541.46,425.05 1541.89,407.31 1542.32,418.39 1542.76,427.52 1543.19,432.58 1543.63,427.28 1544.06,432.05 1544.50,446.31 1544.93,430.37 1545.36,433.18 1545.80,434.51 1546.23,437.48 1546.67,411.13 1547.10,405.06 1547.54,420.74 1547.97,439.45 1548.41,444.55 1548.84,434.41 1549.27,427.70 1549.71,433.85 1550.14,432.84 1550.58,418.64 1551.01,427.77 1551.45,443.43 1551.88,437.39 1552.32,440.55 1552.75,430.20 1553.18,445.99 1553.62,434.81 1554.05,442.23 1554.49,433.33 1554.92,446.38 1555.36,442.70 1555.79,433.33 1556.22,428.51 1556.66,423.32 1557.09,433.94 1557.53,447.86 1557.96,415.22 1558.40,428.40 1558.83,427.43 1559.27,428.64 1559.70,445.32 1560.13,437.24 1560.57,431.23 1561.00,421.84 1561.44,433.58 1561.87,469.94 1562.31,435.68 1562.74,429.27 1563.18,417.91 1563.61,426.17 1564.04,405.64 1564.48,418.74 1564.91,419.86 1565.35,425.36 1565.78,452.90 1566.22,426.63 1566.65,430.07 1567.08,443.12 1567.52,429.86 1567.95,432.19 1568.39,443.63 1568.82,439.27 1569.26,440.85 1569.69,435.72 1570.13,443.85 1570.56,431.99 1570.99,461.25 1571.43,441.14 1571.86,457.82 1572.30,444.33 1572.73,433.45 1573.17,438.92 1573.60,439.20 1574.04,436.25 1574.47,416.83 1574.90,449.79 1575.34,440.56 1575.77,454.23 1576.21,441.21 1576.64,432.97 1577.08,445.82 1577.51,432.14 1577.94,426.55 1578.38,450.45 1578.81,436.72 1579.25,440.06 1579.68,458.90 1580.12,439.77 1580.55,446.63 1580.99,421.10 1581.42,448.38 1581.85,416.61 1582.29,444.14 1582.72,413.31 1583.16,429.34 1583.59,430.67 1584.03,426.95 1584.46,426.27 1584.90,419.84 1585.33,416.51 1585.76,440.40 1586.20,450.85 1586.63,466.53 1587.07,440.12 1587.50,426.04 1587.94,430.12 1588.37,432.77 1588.80,436.87 1589.24,440.22 1589.67,435.55 1590.11,427.01 1590.54,452.16 1590.98,421.00 1591.41,446.22 1591.85,430.90 1592.28,438.70 1592.71,437.18 1593.15,444.64 1593.58,446.64 1594.02,437.00 1594.45,448.66 1594.89,420.66 1595.32,442.04 1595.76,445.47 1596.19,443.45 1596.62,451.47 1597.06,468.34 1597.49,443.09 1597.93,434.54 1598.36,456.04 1598.80,455.62 1599.23,453.69 1599.66,440.52 1600.10,435.64 1600.53,434.34 1600.97,436.34 1601.40,450.43 1601.84,431.21 1602.27,446.57 1602.71,436.58 1603.14,430.76 1603.57,442.42 1604.01,453.89 1604.44,414.56 1604.88,451.56 1605.31,446.79 1605.75,448.24 1606.18,423.13 1606.62,436.17 1607.05,461.16 1607.48,424.06 1607.92,406.79 1608.35,410.02 1608.79,438.74 1609.22,431.96 1609.66,426.68 1610.09,421.49 1610.52,432.12 1610.96,446.13 1611.39,422.50 1611.83,422.87 1612.26,446.68 1612.70,435.52 1613.13,429.19 1613.57,431.65 1614.00,425.76 1614.43,422.13 1614.87,426.14 1615.30,433.16 1615.74,447.67 1616.17,424.56 1616.61,415.89 1617.04,409.10 1617.48,432.20 1617.91,432.37 1618.34,414.80 1618.78,416.20 1619.21,427.17 1619.65,423.50 1620.08,440.05 1620.52,424.72 1620.95,442.06 1621.38,434.54 1621.82,433.51 1622.25,439.21 1622.69,460.13 1623.12,443.92 1623.56,429.80 1623.99,435.01 1624.43,439.81 1624.86,430.09 1625.29,426.78 1625.73,424.45 1626.16,445.33 1626.60,434.92 1627.03,440.52 1627.47,446.84 1627.90,455.17 1628.34,437.86 1628.77,447.65 1629.20,410.82 1629.64,438.76 1630.07,442.13 1630.51,444.16 1630.94,417.40 1631.38,449.81 1631.81,441.01 1632.24,448.14 1632.68,440.63 1633.11,438.91 1633.55,442.48 1633.98,455.49 1634.42,438.62 1634.85,417.92 1635.29,442.61 1635.72,438.63 1636.15,426.97 1636.59,468.29 1637.02,437.56 1637.46,421.70 1637.89,440.69 1638.33,457.72 1638.76,430.47 1639.20,434.48 1639.63,424.03 1640.06,425.24 1640.50,439.00 1640.93,431.17 1641.37,457.81 1641.80,421.69 1642.24,433.91 1642.67,423.00 1643.10,422.49 1643.54,438.51 1643.97,437.54 1644.41,445.95 1644.84,459.88 1645.28,436.72 1645.71,416.71 1646.15,449.75 1646.58,427.59 1647.01,435.90 1647.45,432.19 1647.88,447.96 1648.32,460.08 1648.75,429.87 1649.19,431.85 1649.62,441.79 1650.06,444.93 1650.49,442.93 1650.92,441.54 1651.36,445.50 1651.79,464.73 1652.23,430.51 1652.66,457.35 1653.10,443.51 1653.53,443.09 1653.96,437.93 1654.40,460.96 1654.83,428.20 1655.27,434.70 1655.70,434.17 1656.14,429.36 1656.57,455.39 1657.01,474.50 1657.44,442.52 1657.87,429.28 1658.31,430.82 1658.74,451.27 1659.18,432.59 1659.61,442.43 1660.05,469.29 1660.48,454.73 1660.92,454.04 1661.35,428.79 1661.78,454.43 1662.22,429.34 1662.65,462.09 1663.09,467.22 1663.52,423.17 1663.96,462.15 1664.39,443.83 1664.82,430.54 1665.26,457.58 1665.69,465.26 1666.13,438.75 1666.56,450.52 1667.00,465.08 1667.43,463.13 1667.87,453.71 1668.30,437.35 1668.73,453.58 1669.17,440.97 1669.60,429.10 1670.04,432.79 1670.47,431.35 1670.91,432.15 1671.34,466.33 1671.78,432.10 1672.21,440.49 1672.64,433.89 1673.08,456.00 1673.51,461.70 1673.95,457.22 1674.38,443.99 1674.82,455.27 1675.25,449.28 1675.68,446.24 1676.12,430.30 1676.55,440.72 1676.99,438.56 1677.42,420.86 1677.86,440.55 1678.29,428.46 1678.73,448.54 1679.16,443.56 1679.59,434.08 1680.03,435.60 1680.46,442.98 1680.90,449.44 1681.33,440.06 1681.77,442.17 1682.20,444.89 1682.64,425.81 1683.07,452.05 1683.50,430.78 1683.94,445.69 1684.37,436.57 1684.81,448.64 1685.24,458.72 1685.68,429.67 1686.11,437.76 1686.54,457.95 1686.98,466.38 1687.41,450.30 1687.85,458.64 1688.28,449.12 1688.72,437.70 1689.15,427.97 1689.59,449.76 1690.02,415.36 1690.45,431.03 1690.89,449.82 1691.32,464.22 1691.76,435.19 1692.19,438.32 1692.63,417.59 1693.06,428.81 1693.50,437.29 1693.93,426.45 1694.36,458.16 1694.80,443.46 1695.23,447.24 1695.67,421.84 1696.10,437.02 1696.54,474.50 1696.97,427.83" fill="none" stroke="#222" stroke-width="1.05" stroke-linejoin="miter"/>
<polyline points="1164.3,444.5 1166.9,45.8 1168.3,45.8 1170.6,440.2" fill="none" stroke="#9a9a9a" stroke-width="1.3"/>
<rect x="1070.5" y="4" width="638.3" height="470.5" fill="none" stroke="#6a6a6a" stroke-width="2.4"/>
<line x1="1071.0" y1="474.5" x2="1071.0" y2="479.5" stroke="#474747" stroke-width="1.8"/>
<line x1="1143.4" y1="474.5" x2="1143.4" y2="484.0" stroke="#474747" stroke-width="1.8"/>
<line x1="1215.8" y1="474.5" x2="1215.8" y2="479.5" stroke="#474747" stroke-width="1.8"/>
<line x1="1288.2" y1="474.5" x2="1288.2" y2="484.0" stroke="#474747" stroke-width="1.8"/>
<line x1="1360.6" y1="474.5" x2="1360.6" y2="479.5" stroke="#474747" stroke-width="1.8"/>
<line x1="1433.0" y1="474.5" x2="1433.0" y2="484.0" stroke="#474747" stroke-width="1.8"/>
<line x1="1505.4" y1="474.5" x2="1505.4" y2="479.5" stroke="#474747" stroke-width="1.8"/>
<line x1="1577.8" y1="474.5" x2="1577.8" y2="484.0" stroke="#474747" stroke-width="1.8"/>
<line x1="1650.2" y1="474.5" x2="1650.2" y2="479.5" stroke="#474747" stroke-width="1.8"/>
<line x1="1061.0" y1="474.5" x2="1070.5" y2="474.5" stroke="#474747" stroke-width="1.8"/>
<line x1="1065.5" y1="431.6" x2="1070.5" y2="431.6" stroke="#474747" stroke-width="1.8"/>
<line x1="1061.0" y1="388.8" x2="1070.5" y2="388.8" stroke="#474747" stroke-width="1.8"/>
<line x1="1065.5" y1="345.9" x2="1070.5" y2="345.9" stroke="#474747" stroke-width="1.8"/>
<line x1="1061.0" y1="303.0" x2="1070.5" y2="303.0" stroke="#474747" stroke-width="1.8"/>
<line x1="1065.5" y1="260.1" x2="1070.5" y2="260.1" stroke="#474747" stroke-width="1.8"/>
<line x1="1061.0" y1="217.3" x2="1070.5" y2="217.3" stroke="#474747" stroke-width="1.8"/>
<line x1="1065.5" y1="174.4" x2="1070.5" y2="174.4" stroke="#474747" stroke-width="1.8"/>
<line x1="1061.0" y1="131.5" x2="1070.5" y2="131.5" stroke="#474747" stroke-width="1.8"/>
<line x1="1065.5" y1="88.7" x2="1070.5" y2="88.7" stroke="#474747" stroke-width="1.8"/>
<line x1="1061.0" y1="45.8" x2="1070.5" y2="45.8" stroke="#474747" stroke-width="1.8"/>
<text x="1116.81" y="511.28" style="font-family:'Liberation Sans',Arial,sans-serif;font-size:33.00px" textLength="53.14" lengthAdjust="spacingAndGlyphs" fill="#151515">850</text>
<text x="1261.45" y="511.28" style="font-family:'Liberation Sans',Arial,sans-serif;font-size:33.00px" textLength="53.14" lengthAdjust="spacingAndGlyphs" fill="#151515">900</text>
<text x="1406.25" y="511.28" style="font-family:'Liberation Sans',Arial,sans-serif;font-size:33.00px" textLength="53.14" lengthAdjust="spacingAndGlyphs" fill="#151515">950</text>
<text x="1541.82" y="511.28" style="font-family:'Liberation Sans',Arial,sans-serif;font-size:33.00px" textLength="70.85" lengthAdjust="spacingAndGlyphs" fill="#151515">1000</text>
<text x="1017.26" y="484.71" style="font-family:'Liberation Sans',Arial,sans-serif;font-size:32.50px" textLength="43.60" lengthAdjust="spacingAndGlyphs" fill="#151515">0.0</text>
<text x="1017.57" y="398.97" style="font-family:'Liberation Sans',Arial,sans-serif;font-size:32.50px" textLength="43.60" lengthAdjust="spacingAndGlyphs" fill="#151515">0.2</text>
<text x="1016.95" y="313.23" style="font-family:'Liberation Sans',Arial,sans-serif;font-size:32.50px" textLength="43.60" lengthAdjust="spacingAndGlyphs" fill="#151515">0.4</text>
<text x="1017.26" y="227.49" style="font-family:'Liberation Sans',Arial,sans-serif;font-size:32.50px" textLength="43.60" lengthAdjust="spacingAndGlyphs" fill="#151515">0.6</text>
<text x="1017.26" y="141.75" style="font-family:'Liberation Sans',Arial,sans-serif;font-size:32.50px" textLength="43.60" lengthAdjust="spacingAndGlyphs" fill="#151515">0.8</text>
<text x="1017.26" y="56.01" style="font-family:'Liberation Sans',Arial,sans-serif;font-size:32.50px" textLength="43.60" lengthAdjust="spacingAndGlyphs" fill="#151515">1.0</text>
<text x="902.65" y="35.63" style="font-family:'Liberation Sans',Arial,sans-serif;font-size:42.23px;stroke-width:0" textLength="60.11" lengthAdjust="spacingAndGlyphs" fill="#151515" >(b)</text>
<text transform="translate(983.67,415.51) rotate(-90)" x="0" y="0" style="font-family:'Liberation Sans',Arial,sans-serif;font-weight:bold;font-size:37.77px;stroke-width:0.25px" textLength="357.64" lengthAdjust="spacingAndGlyphs" fill="#151515">Normalized PL (a.u.)</text>
<text x="1243.40" y="550.27" style="font-family:'Liberation Sans',Arial,sans-serif;font-weight:bold;font-size:36.81px;stroke-width:0.25px" textLength="297.30" lengthAdjust="spacingAndGlyphs" fill="#151515" >Wavelegnth (nm)</text>
<clipPath id="cclip"><rect x="181.2" y="600" width="662.5" height="482.4000000000001"/></clipPath>
<g clip-path="url(#cclip)">
<circle cx="187.0" cy="1026.3" r="2.95" fill="#050505"/>
<circle cx="192.5" cy="999.6" r="2.95" fill="#050505"/>
<circle cx="198.0" cy="958.1" r="2.95" fill="#050505"/>
<circle cx="203.5" cy="971.2" r="2.95" fill="#050505"/>
<circle cx="209.0" cy="976.8" r="2.95" fill="#050505"/>
<circle cx="214.5" cy="978.2" r="2.95" fill="#050505"/>
<circle cx="220.0" cy="990.2" r="2.95" fill="#050505"/>
<circle cx="225.5" cy="966.4" r="2.95" fill="#050505"/>
<circle cx="231.0" cy="927.1" r="2.95" fill="#050505"/>
<circle cx="236.5" cy="979.5" r="2.95" fill="#050505"/>
<circle cx="242.0" cy="952.5" r="2.95" fill="#050505"/>
<circle cx="247.5" cy="971.7" r="2.95" fill="#050505"/>
<circle cx="253.0" cy="985.9" r="2.95" fill="#050505"/>
<circle cx="258.5" cy="973.1" r="2.95" fill="#050505"/>
<circle cx="264.0" cy="1003.8" r="2.95" fill="#050505"/>
<circle cx="269.5" cy="973.1" r="2.95" fill="#050505"/>
<circle cx="275.0" cy="1006.5" r="2.95" fill="#050505"/>
<circle cx="280.5" cy="984.3" r="2.95" fill="#050505"/>
<circle cx="286.0" cy="980.3" r="2.95" fill="#050505"/>
<circle cx="291.6" cy="1008.4" r="2.95" fill="#050505"/>
<circle cx="297.1" cy="1000.6" r="2.95" fill="#050505"/>
<circle cx="302.6" cy="963.2" r="2.95" fill="#050505"/>
<circle cx="308.1" cy="986.7" r="2.95" fill="#050505"/>
<circle cx="313.6" cy="954.1" r="2.95" fill="#050505"/>
<circle cx="319.1" cy="972.8" r="2.95" fill="#050505"/>
<circle cx="324.6" cy="948.7" r="2.95" fill="#050505"/>
<circle cx="330.1" cy="964.8" r="2.95" fill="#050505"/>
<circle cx="335.6" cy="972.0" r="2.95" fill="#050505"/>
<circle cx="341.1" cy="943.1" r="2.95" fill="#050505"/>
<circle cx="346.6" cy="978.7" r="2.95" fill="#050505"/>
<circle cx="352.1" cy="979.8" r="2.95" fill="#050505"/>
<circle cx="357.6" cy="965.3" r="2.95" fill="#050505"/>
<circle cx="363.1" cy="975.0" r="2.95" fill="#050505"/>
<circle cx="368.6" cy="960.2" r="2.95" fill="#050505"/>
<circle cx="374.1" cy="936.4" r="2.95" fill="#050505"/>
<circle cx="379.6" cy="969.1" r="2.95" fill="#050505"/>
<circle cx="385.1" cy="952.0" r="2.95" fill="#050505"/>
<circle cx="390.6" cy="977.1" r="2.95" fill="#050505"/>
<circle cx="396.1" cy="977.1" r="2.95" fill="#050505"/>
<circle cx="401.6" cy="946.1" r="2.95" fill="#050505"/>
<circle cx="407.2" cy="916.4" r="2.95" fill="#050505"/>
<circle cx="412.7" cy="890.7" r="2.95" fill="#050505"/>
<circle cx="418.2" cy="902.5" r="2.95" fill="#050505"/>
<circle cx="423.7" cy="888.0" r="2.95" fill="#050505"/>
<circle cx="429.2" cy="880.3" r="2.95" fill="#050505"/>
<circle cx="434.7" cy="854.6" r="2.95" fill="#050505"/>
<circle cx="440.2" cy="819.3" r="2.95" fill="#050505"/>
<circle cx="445.7" cy="841.2" r="2.95" fill="#050505"/>
<circle cx="451.2" cy="811.0" r="2.95" fill="#050505"/>
<circle cx="456.7" cy="823.8" r="2.95" fill="#050505"/>
<circle cx="462.2" cy="805.1" r="2.95" fill="#050505"/>
<circle cx="467.7" cy="770.9" r="2.95" fill="#050505"/>
<circle cx="473.2" cy="816.1" r="2.95" fill="#050505"/>
<circle cx="478.7" cy="796.0" r="2.95" fill="#050505"/>
<circle cx="484.2" cy="756.7" r="2.95" fill="#050505"/>
<circle cx="489.7" cy="820.3" r="2.95" fill="#050505"/>
<circle cx="495.2" cy="759.6" r="2.95" fill="#050505"/>
<circle cx="500.7" cy="781.3" r="2.95" fill="#050505"/>
<circle cx="506.2" cy="794.7" r="2.95" fill="#050505"/>
<circle cx="511.8" cy="729.1" r="2.95" fill="#050505"/>
<circle cx="517.3" cy="701.6" r="2.95" fill="#050505"/>
<circle cx="522.8" cy="670.8" r="2.95" fill="#050505"/>
<circle cx="528.3" cy="704.0" r="2.95" fill="#050505"/>
<circle cx="533.8" cy="731.8" r="2.95" fill="#050505"/>
<circle cx="539.3" cy="692.7" r="2.95" fill="#050505"/>
<circle cx="544.8" cy="704.0" r="2.95" fill="#050505"/>
<circle cx="550.3" cy="717.9" r="2.95" fill="#050505"/>
<circle cx="555.8" cy="738.5" r="2.95" fill="#050505"/>
<circle cx="561.3" cy="791.7" r="2.95" fill="#050505"/>
<circle cx="566.8" cy="752.4" r="2.95" fill="#050505"/>
<circle cx="572.3" cy="791.7" r="2.95" fill="#050505"/>
<circle cx="577.8" cy="810.2" r="2.95" fill="#050505"/>
<circle cx="583.3" cy="851.9" r="2.95" fill="#050505"/>
<circle cx="588.8" cy="880.8" r="2.95" fill="#050505"/>
<circle cx="594.3" cy="853.0" r="2.95" fill="#050505"/>
<circle cx="599.8" cy="882.1" r="2.95" fill="#050505"/>
<circle cx="605.3" cy="911.3" r="2.95" fill="#050505"/>
<circle cx="610.8" cy="885.9" r="2.95" fill="#050505"/>
<circle cx="616.3" cy="896.3" r="2.95" fill="#050505"/>
<circle cx="621.8" cy="896.8" r="2.95" fill="#050505"/>
<circle cx="627.4" cy="867.7" r="2.95" fill="#050505"/>
<circle cx="632.9" cy="832.9" r="2.95" fill="#050505"/>
<circle cx="638.4" cy="903.3" r="2.95" fill="#050505"/>
<circle cx="643.9" cy="888.0" r="2.95" fill="#050505"/>
<circle cx="649.4" cy="873.0" r="2.95" fill="#050505"/>
<circle cx="654.9" cy="876.5" r="2.95" fill="#050505"/>
<circle cx="660.4" cy="856.7" r="2.95" fill="#050505"/>
<circle cx="665.9" cy="887.5" r="2.95" fill="#050505"/>
<circle cx="671.4" cy="887.5" r="2.95" fill="#050505"/>
<circle cx="676.9" cy="862.6" r="2.95" fill="#050505"/>
<circle cx="682.4" cy="916.4" r="2.95" fill="#050505"/>
<circle cx="687.9" cy="946.6" r="2.95" fill="#050505"/>
<circle cx="693.4" cy="900.3" r="2.95" fill="#050505"/>
<circle cx="698.9" cy="911.8" r="2.95" fill="#050505"/>
<circle cx="704.4" cy="923.9" r="2.95" fill="#050505"/>
<circle cx="709.9" cy="985.9" r="2.95" fill="#050505"/>
<circle cx="715.4" cy="968.5" r="2.95" fill="#050505"/>
<circle cx="720.9" cy="1004.4" r="2.95" fill="#050505"/>
<circle cx="726.4" cy="1002.2" r="2.95" fill="#050505"/>
<circle cx="732.0" cy="1016.2" r="2.95" fill="#050505"/>
<circle cx="737.5" cy="969.1" r="2.95" fill="#050505"/>
<circle cx="743.0" cy="962.1" r="2.95" fill="#050505"/>
<circle cx="748.5" cy="979.0" r="2.95" fill="#050505"/>
<circle cx="754.0" cy="992.1" r="2.95" fill="#050505"/>
<circle cx="759.5" cy="968.0" r="2.95" fill="#050505"/>
<circle cx="765.0" cy="992.9" r="2.95" fill="#050505"/>
<circle cx="770.5" cy="965.9" r="2.95" fill="#050505"/>
<circle cx="776.0" cy="995.8" r="2.95" fill="#050505"/>
<circle cx="781.5" cy="1012.7" r="2.95" fill="#050505"/>
<circle cx="787.0" cy="1046.9" r="2.95" fill="#050505"/>
<circle cx="792.5" cy="1046.9" r="2.95" fill="#050505"/>
<circle cx="798.0" cy="1012.7" r="2.95" fill="#050505"/>
<circle cx="803.5" cy="998.0" r="2.95" fill="#050505"/>
<circle cx="809.0" cy="1074.5" r="2.95" fill="#050505"/>
<circle cx="814.5" cy="1001.4" r="2.95" fill="#050505"/>
<circle cx="820.0" cy="987.0" r="2.95" fill="#050505"/>
<circle cx="825.5" cy="1026.6" r="2.95" fill="#050505"/>
<circle cx="831.0" cy="1016.4" r="2.95" fill="#050505"/>
<circle cx="836.5" cy="1030.3" r="2.95" fill="#050505"/>
<circle cx="842.0" cy="983.5" r="2.95" fill="#050505"/>
</g>
<polyline points="181.4,988.6 183.1,988.6 184.8,988.6 186.4,988.6 188.1,988.6 189.7,988.6 191.4,988.6 193.0,988.6 194.7,988.6 196.4,988.6 198.0,988.6 199.7,988.6 201.3,988.6 203.0,988.6 204.6,988.6 206.3,988.6 207.9,988.6 209.6,988.6 211.3,988.6 212.9,988.6 214.6,988.6 216.2,988.6 217.9,988.6 219.5,988.6 221.2,988.6 222.8,988.6 224.5,988.6 226.2,988.6 227.8,988.6 229.5,988.6 231.1,988.6 232.8,988.6 234.4,988.6 236.1,988.6 237.7,988.6 239.4,988.6 241.1,988.6 242.7,988.5 244.4,988.5 246.0,988.5 247.7,988.5 249.3,988.5 251.0,988.5 252.6,988.5 254.3,988.5 256.0,988.5 257.6,988.5 259.3,988.5 260.9,988.4 262.6,988.4 264.2,988.4 265.9,988.4 267.5,988.4 269.2,988.4 270.9,988.3 272.5,988.3 274.2,988.3 275.8,988.2 277.5,988.2 279.1,988.2 280.8,988.1 282.4,988.1 284.1,988.0 285.8,988.0 287.4,987.9 289.1,987.9 290.7,987.8 292.4,987.8 294.0,987.7 295.7,987.6 297.3,987.5 299.0,987.4 300.7,987.3 302.3,987.2 304.0,987.1 305.6,987.0 307.3,986.8 308.9,986.7 310.6,986.6 312.2,986.4 313.9,986.2 315.6,986.0 317.2,985.8 318.9,985.6 320.5,985.4 322.2,985.1 323.8,984.9 325.5,984.6 327.1,984.3 328.8,984.0 330.5,983.7 332.1,983.3 333.8,982.9 335.4,982.5 337.1,982.1 338.7,981.7 340.4,981.2 342.0,980.7 343.7,980.2 345.4,979.6 347.0,979.0 348.7,978.4 350.3,977.7 352.0,977.0 353.6,976.3 355.3,975.5 356.9,974.7 358.6,973.8 360.3,973.0 361.9,972.0 363.6,971.0 365.2,970.0 366.9,968.9 368.5,967.8 370.2,966.6 371.8,965.4 373.5,964.1 375.2,962.7 376.8,961.3 378.5,959.9 380.1,958.3 381.8,956.7 383.4,955.1 385.1,953.4 386.7,951.6 388.4,949.8 390.1,947.9 391.7,945.9 393.4,943.8 395.0,941.7 396.7,939.5 398.3,937.3 400.0,935.0 401.6,932.6 403.3,930.1 405.0,927.5 406.6,924.9 408.3,922.2 409.9,919.5 411.6,916.7 413.2,913.8 414.9,910.8 416.6,907.7 418.2,904.6 419.9,901.5 421.5,898.2 423.2,894.9 424.8,891.6 426.5,888.2 428.1,884.7 429.8,881.2 431.5,877.6 433.1,873.9 434.8,870.3 436.4,866.5 438.1,862.8 439.7,859.0 441.4,855.1 443.0,851.3 444.7,847.4 446.4,843.5 448.0,839.5 449.7,835.6 451.3,831.6 453.0,827.7 454.6,823.7 456.3,819.8 457.9,815.8 459.6,811.9 461.3,808.0 462.9,804.1 464.6,800.2 466.2,796.4 467.9,792.7 469.5,788.9 471.2,785.3 472.8,781.6 474.5,778.1 476.2,774.6 477.8,771.2 479.5,767.9 481.1,764.6 482.8,761.5 484.4,758.4 486.1,755.5 487.7,752.6 489.4,749.9 491.1,747.3 492.7,744.8 494.4,742.4 496.0,740.1 497.7,738.0 499.3,736.0 501.0,734.2 502.6,732.5 504.3,730.9 506.0,729.5 507.6,728.2 509.3,727.1 510.9,726.2 512.6,725.4 514.2,724.8 515.9,724.3 517.5,724.0 519.2,723.8 520.9,723.8 522.5,724.0 524.2,724.3 525.8,724.8 527.5,725.4 529.1,726.2 530.8,727.2 532.4,728.3 534.1,729.5 535.8,731.0 537.4,732.5 539.1,734.2 540.7,736.1 542.4,738.1 544.0,740.2 545.7,742.4 547.3,744.8 549.0,747.3 550.7,750.0 552.3,752.7 554.0,755.6 555.6,758.5 557.3,761.6 558.9,764.7 560.6,768.0 562.2,771.3 563.9,774.7 565.6,778.2 567.2,781.7 568.9,785.4 570.5,789.0 572.2,792.8 573.8,796.5 575.5,800.3 577.1,804.2 578.8,808.1 580.5,812.0 582.1,815.9 583.8,819.9 585.4,823.8 587.1,827.8 588.7,831.7 590.4,835.7 592.0,839.6 593.7,843.6 595.4,847.5 597.0,851.4 598.7,855.2 600.3,859.1 602.0,862.9 603.6,866.6 605.3,870.4 606.9,874.0 608.6,877.7 610.3,881.2 611.9,884.8 613.6,888.3 615.2,891.7 616.9,895.0 618.5,898.3 620.2,901.6 621.8,904.7 623.5,907.8 625.2,910.9 626.8,913.8 628.5,916.7 630.1,919.5 631.8,922.3 633.4,925.0 635.1,927.6 636.8,930.1 638.4,932.6 640.1,935.0 641.7,937.3 643.4,939.6 645.0,941.8 646.7,943.9 648.3,945.9 650.0,947.9 651.7,949.8 653.3,951.7 655.0,953.4 656.6,955.1 658.3,956.8 659.9,958.4 661.6,959.9 663.2,961.4 664.9,962.8 666.6,964.1 668.2,965.4 669.9,966.6 671.5,967.8 673.2,968.9 674.8,970.0 676.5,971.1 678.1,972.0 679.8,973.0 681.5,973.9 683.1,974.7 684.8,975.5 686.4,976.3 688.1,977.0 689.7,977.7 691.4,978.4 693.0,979.0 694.7,979.6 696.4,980.2 698.0,980.7 699.7,981.2 701.3,981.7 703.0,982.1 704.6,982.5 706.3,982.9 707.9,983.3 709.6,983.7 711.3,984.0 712.9,984.3 714.6,984.6 716.2,984.9 717.9,985.1 719.5,985.4 721.2,985.6 722.8,985.8 724.5,986.0 726.2,986.2 727.8,986.4 729.5,986.6 731.1,986.7 732.8,986.8 734.4,987.0 736.1,987.1 737.7,987.2 739.4,987.3 741.1,987.4 742.7,987.5 744.4,987.6 746.0,987.7 747.7,987.8 749.3,987.8 751.0,987.9 752.6,987.9 754.3,988.0 756.0,988.0 757.6,988.1 759.3,988.1 760.9,988.2 762.6,988.2 764.2,988.2 765.9,988.3 767.5,988.3 769.2,988.3 770.9,988.4 772.5,988.4 774.2,988.4 775.8,988.4 777.5,988.4 779.1,988.4 780.8,988.5 782.4,988.5 784.1,988.5 785.8,988.5 787.4,988.5 789.1,988.5 790.7,988.5 792.4,988.5 794.0,988.5 795.7,988.5 797.3,988.5 799.0,988.6 800.7,988.6 802.3,988.6 804.0,988.6 805.6,988.6 807.3,988.6 808.9,988.6 810.6,988.6 812.2,988.6 813.9,988.6 815.6,988.6 817.2,988.6 818.9,988.6 820.5,988.6 822.2,988.6 823.8,988.6 825.5,988.6 827.1,988.6 828.8,988.6 830.5,988.6 832.1,988.6 833.8,988.6 835.4,988.6 837.1,988.6 838.7,988.6 840.4,988.6 842.0,988.6" fill="none" stroke="rgb(190,62,78)" stroke-width="2.6" opacity="0.88"/>
<rect x="181.2" y="615.3" width="662.0" height="467.10000000000014" fill="none" stroke="#6a6a6a" stroke-width="2.4"/>
<line x1="181.4" y1="1082.4" x2="181.4" y2="1086.4" stroke="#474747" stroke-width="1.8"/>
<line x1="236.5" y1="1082.4" x2="236.5" y2="1089.9" stroke="#474747" stroke-width="1.8"/>
<line x1="291.6" y1="1082.4" x2="291.6" y2="1086.4" stroke="#474747" stroke-width="1.8"/>
<line x1="346.6" y1="1082.4" x2="346.6" y2="1089.9" stroke="#474747" stroke-width="1.8"/>
<line x1="401.6" y1="1082.4" x2="401.6" y2="1086.4" stroke="#474747" stroke-width="1.8"/>
<line x1="456.7" y1="1082.4" x2="456.7" y2="1089.9" stroke="#474747" stroke-width="1.8"/>
<line x1="511.8" y1="1082.4" x2="511.8" y2="1086.4" stroke="#474747" stroke-width="1.8"/>
<line x1="566.8" y1="1082.4" x2="566.8" y2="1089.9" stroke="#474747" stroke-width="1.8"/>
<line x1="621.8" y1="1082.4" x2="621.8" y2="1086.4" stroke="#474747" stroke-width="1.8"/>
<line x1="676.9" y1="1082.4" x2="676.9" y2="1089.9" stroke="#474747" stroke-width="1.8"/>
<line x1="732.0" y1="1082.4" x2="732.0" y2="1086.4" stroke="#474747" stroke-width="1.8"/>
<line x1="787.0" y1="1082.4" x2="787.0" y2="1089.9" stroke="#474747" stroke-width="1.8"/>
<line x1="842.0" y1="1082.4" x2="842.0" y2="1086.4" stroke="#474747" stroke-width="1.8"/>
<line x1="176.7" y1="1068.9" x2="181.2" y2="1068.9" stroke="#474747" stroke-width="1.8"/>
<line x1="171.2" y1="1042.1" x2="181.2" y2="1042.1" stroke="#474747" stroke-width="1.8"/>
<line x1="176.7" y1="1015.4" x2="181.2" y2="1015.4" stroke="#474747" stroke-width="1.8"/>
<line x1="171.2" y1="988.6" x2="181.2" y2="988.6" stroke="#474747" stroke-width="1.8"/>
<line x1="176.7" y1="961.9" x2="181.2" y2="961.9" stroke="#474747" stroke-width="1.8"/>
<line x1="171.2" y1="935.1" x2="181.2" y2="935.1" stroke="#474747" stroke-width="1.8"/>
<line x1="176.7" y1="908.4" x2="181.2" y2="908.4" stroke="#474747" stroke-width="1.8"/>
<line x1="171.2" y1="881.6" x2="181.2" y2="881.6" stroke="#474747" stroke-width="1.8"/>
<line x1="176.7" y1="854.9" x2="181.2" y2="854.9" stroke="#474747" stroke-width="1.8"/>
<line x1="171.2" y1="828.1" x2="181.2" y2="828.1" stroke="#474747" stroke-width="1.8"/>
<line x1="176.7" y1="801.4" x2="181.2" y2="801.4" stroke="#474747" stroke-width="1.8"/>
<line x1="171.2" y1="774.6" x2="181.2" y2="774.6" stroke="#474747" stroke-width="1.8"/>
<line x1="176.7" y1="747.9" x2="181.2" y2="747.9" stroke="#474747" stroke-width="1.8"/>
<line x1="171.2" y1="721.1" x2="181.2" y2="721.1" stroke="#474747" stroke-width="1.8"/>
<line x1="176.7" y1="694.4" x2="181.2" y2="694.4" stroke="#474747" stroke-width="1.8"/>
<line x1="171.2" y1="667.6" x2="181.2" y2="667.6" stroke="#474747" stroke-width="1.8"/>
<line x1="176.7" y1="640.9" x2="181.2" y2="640.9" stroke="#474747" stroke-width="1.8"/>
<text x="220.07" y="1118.68" style="font-family:'Liberation Sans',Arial,sans-serif;font-size:33.00px" textLength="35.61" lengthAdjust="spacingAndGlyphs" fill="#151515">20</text>
<text x="330.65" y="1118.68" style="font-family:'Liberation Sans',Arial,sans-serif;font-size:33.00px" textLength="35.61" lengthAdjust="spacingAndGlyphs" fill="#151515">40</text>
<text x="440.27" y="1118.68" style="font-family:'Liberation Sans',Arial,sans-serif;font-size:33.00px" textLength="35.61" lengthAdjust="spacingAndGlyphs" fill="#151515">60</text>
<text x="550.53" y="1118.68" style="font-family:'Liberation Sans',Arial,sans-serif;font-size:33.00px" textLength="35.61" lengthAdjust="spacingAndGlyphs" fill="#151515">80</text>
<text x="651.03" y="1118.68" style="font-family:'Liberation Sans',Arial,sans-serif;font-size:33.00px" textLength="53.41" lengthAdjust="spacingAndGlyphs" fill="#151515">100</text>
<text x="761.13" y="1118.68" style="font-family:'Liberation Sans',Arial,sans-serif;font-size:33.00px" textLength="53.41" lengthAdjust="spacingAndGlyphs" fill="#151515">120</text>
<text x="117.25" y="1052.48" style="font-family:'Liberation Sans',Arial,sans-serif;font-size:33.00px" textLength="54.02" lengthAdjust="spacingAndGlyphs" fill="#151515">-0.2</text>
<text x="127.28" y="998.99" style="font-family:'Liberation Sans',Arial,sans-serif;font-size:33.00px" textLength="43.58" lengthAdjust="spacingAndGlyphs" fill="#151515">0.0</text>
<text x="127.59" y="945.49" style="font-family:'Liberation Sans',Arial,sans-serif;font-size:33.00px" textLength="43.58" lengthAdjust="spacingAndGlyphs" fill="#151515">0.2</text>
<text x="126.96" y="891.99" style="font-family:'Liberation Sans',Arial,sans-serif;font-size:33.00px" textLength="43.58" lengthAdjust="spacingAndGlyphs" fill="#151515">0.4</text>
<text x="127.28" y="838.49" style="font-family:'Liberation Sans',Arial,sans-serif;font-size:33.00px" textLength="43.58" lengthAdjust="spacingAndGlyphs" fill="#151515">0.6</text>
<text x="127.28" y="784.99" style="font-family:'Liberation Sans',Arial,sans-serif;font-size:33.00px" textLength="43.58" lengthAdjust="spacingAndGlyphs" fill="#151515">0.8</text>
<text x="127.28" y="731.49" style="font-family:'Liberation Sans',Arial,sans-serif;font-size:33.00px" textLength="43.58" lengthAdjust="spacingAndGlyphs" fill="#151515">1.0</text>
<text x="127.59" y="678.15" style="font-family:'Liberation Sans',Arial,sans-serif;font-size:33.00px" textLength="43.58" lengthAdjust="spacingAndGlyphs" fill="#151515">1.2</text>
<text x="126.96" y="624.48" style="font-family:'Liberation Sans',Arial,sans-serif;font-size:33.00px" textLength="43.58" lengthAdjust="spacingAndGlyphs" fill="#151515">1.4</text>
<text x="-1.14" y="641.37" style="font-family:'Liberation Sans',Arial,sans-serif;font-size:42.98px;stroke-width:0" textLength="57.18" lengthAdjust="spacingAndGlyphs" fill="#151515" >(c)</text>
<text transform="translate(99.34,991.76) rotate(-90)" x="0" y="0" style="font-family:'Liberation Sans',Arial,sans-serif;font-weight:bold;font-size:38.40px;stroke-width:0.25px" textLength="333.04" lengthAdjust="spacingAndGlyphs" fill="#151515">ODMR contrast (%)</text>
<text x="380.74" y="1153.52" style="font-family:'Liberation Sans',Arial,sans-serif;font-weight:bold;font-size:35.64px;stroke-width:0.25px" textLength="306.62" lengthAdjust="spacingAndGlyphs" fill="#151515" >Frequency (MHz)</text>
<circle cx="1087.0" cy="1072.2" r="2.9" fill="#050505"/>
<circle cx="1089.9" cy="1062.4" r="2.9" fill="#050505"/>
<circle cx="1092.6" cy="1047.8" r="2.9" fill="#050505"/>
<circle cx="1095.4" cy="1035.4" r="2.9" fill="#050505"/>
<circle cx="1098.2" cy="1022.1" r="2.9" fill="#050505"/>
<circle cx="1101.8" cy="1014.1" r="2.9" fill="#050505"/>
<circle cx="1104.9" cy="999.5" r="2.9" fill="#050505"/>
<circle cx="1107.6" cy="990.5" r="2.9" fill="#050505"/>
<circle cx="1110.7" cy="984.3" r="2.9" fill="#050505"/>
<circle cx="1115.0" cy="970.1" r="2.9" fill="#050505"/>
<circle cx="1117.7" cy="957.6" r="2.9" fill="#050505"/>
<circle cx="1120.2" cy="950.8" r="2.9" fill="#050505"/>
<circle cx="1123.6" cy="944.1" r="2.9" fill="#050505"/>
<circle cx="1127.5" cy="936.0" r="2.9" fill="#050505"/>
<circle cx="1130.5" cy="926.6" r="2.9" fill="#050505"/>
<circle cx="1133.5" cy="923.2" r="2.9" fill="#050505"/>
<circle cx="1136.0" cy="917.5" r="2.9" fill="#050505"/>
<circle cx="1139.3" cy="912.9" r="2.9" fill="#050505"/>
<circle cx="1142.6" cy="903.5" r="2.9" fill="#050505"/>
<circle cx="1144.9" cy="899.3" r="2.9" fill="#050505"/>
<circle cx="1148.7" cy="883.4" r="2.9" fill="#050505"/>
<circle cx="1151.4" cy="887.5" r="2.9" fill="#050505"/>
<circle cx="1155.3" cy="876.0" r="2.9" fill="#050505"/>
<circle cx="1157.3" cy="872.3" r="2.9" fill="#050505"/>
<circle cx="1161.3" cy="870.7" r="2.9" fill="#050505"/>
<circle cx="1164.6" cy="860.9" r="2.9" fill="#050505"/>
<circle cx="1166.9" cy="868.6" r="2.9" fill="#050505"/>
<circle cx="1170.9" cy="855.0" r="2.9" fill="#050505"/>
<circle cx="1174.0" cy="847.9" r="2.9" fill="#050505"/>
<circle cx="1175.9" cy="856.6" r="2.9" fill="#050505"/>
<circle cx="1180.0" cy="846.9" r="2.9" fill="#050505"/>
<circle cx="1182.1" cy="836.0" r="2.9" fill="#050505"/>
<circle cx="1185.9" cy="836.0" r="2.9" fill="#050505"/>
<circle cx="1188.9" cy="835.4" r="2.9" fill="#050505"/>
<circle cx="1191.7" cy="829.4" r="2.9" fill="#050505"/>
<circle cx="1195.0" cy="826.2" r="2.9" fill="#050505"/>
<circle cx="1198.7" cy="817.0" r="2.9" fill="#050505"/>
<circle cx="1201.2" cy="815.4" r="2.9" fill="#050505"/>
<circle cx="1204.1" cy="815.2" r="2.9" fill="#050505"/>
<circle cx="1207.9" cy="812.8" r="2.9" fill="#050505"/>
<circle cx="1210.7" cy="807.5" r="2.9" fill="#050505"/>
<circle cx="1214.3" cy="798.1" r="2.9" fill="#050505"/>
<circle cx="1216.6" cy="800.0" r="2.9" fill="#050505"/>
<circle cx="1219.9" cy="795.7" r="2.9" fill="#050505"/>
<circle cx="1223.6" cy="795.7" r="2.9" fill="#050505"/>
<circle cx="1226.3" cy="798.4" r="2.9" fill="#050505"/>
<circle cx="1229.4" cy="793.1" r="2.9" fill="#050505"/>
<circle cx="1232.2" cy="784.6" r="2.9" fill="#050505"/>
<circle cx="1235.0" cy="784.7" r="2.9" fill="#050505"/>
<circle cx="1239.3" cy="786.0" r="2.9" fill="#050505"/>
<circle cx="1241.3" cy="787.9" r="2.9" fill="#050505"/>
<circle cx="1245.4" cy="776.5" r="2.9" fill="#050505"/>
<circle cx="1247.9" cy="776.8" r="2.9" fill="#050505"/>
<circle cx="1251.8" cy="774.0" r="2.9" fill="#050505"/>
<circle cx="1254.2" cy="772.2" r="2.9" fill="#050505"/>
<circle cx="1258.0" cy="766.4" r="2.9" fill="#050505"/>
<circle cx="1260.6" cy="764.6" r="2.9" fill="#050505"/>
<circle cx="1263.3" cy="759.3" r="2.9" fill="#050505"/>
<circle cx="1267.1" cy="756.9" r="2.9" fill="#050505"/>
<circle cx="1270.1" cy="752.8" r="2.9" fill="#050505"/>
<circle cx="1273.2" cy="753.6" r="2.9" fill="#050505"/>
<circle cx="1276.0" cy="758.0" r="2.9" fill="#050505"/>
<circle cx="1278.8" cy="754.8" r="2.9" fill="#050505"/>
<circle cx="1282.5" cy="749.6" r="2.9" fill="#050505"/>
<circle cx="1284.9" cy="752.7" r="2.9" fill="#050505"/>
<circle cx="1288.8" cy="745.6" r="2.9" fill="#050505"/>
<circle cx="1291.8" cy="740.4" r="2.9" fill="#050505"/>
<circle cx="1294.6" cy="750.2" r="2.9" fill="#050505"/>
<circle cx="1298.2" cy="754.0" r="2.9" fill="#050505"/>
<circle cx="1300.5" cy="735.2" r="2.9" fill="#050505"/>
<circle cx="1303.9" cy="740.5" r="2.9" fill="#050505"/>
<circle cx="1307.6" cy="734.4" r="2.9" fill="#050505"/>
<circle cx="1310.1" cy="745.6" r="2.9" fill="#050505"/>
<circle cx="1313.7" cy="725.1" r="2.9" fill="#050505"/>
<circle cx="1316.6" cy="729.8" r="2.9" fill="#050505"/>
<circle cx="1320.2" cy="733.4" r="2.9" fill="#050505"/>
<circle cx="1323.4" cy="733.4" r="2.9" fill="#050505"/>
<circle cx="1326.1" cy="729.2" r="2.9" fill="#050505"/>
<circle cx="1329.3" cy="729.6" r="2.9" fill="#050505"/>
<circle cx="1331.6" cy="729.3" r="2.9" fill="#050505"/>
<circle cx="1335.4" cy="733.0" r="2.9" fill="#050505"/>
<circle cx="1338.7" cy="716.4" r="2.9" fill="#050505"/>
<circle cx="1341.2" cy="723.7" r="2.9" fill="#050505"/>
<circle cx="1344.6" cy="721.6" r="2.9" fill="#050505"/>
<circle cx="1347.6" cy="720.3" r="2.9" fill="#050505"/>
<circle cx="1351.3" cy="734.9" r="2.9" fill="#050505"/>
<circle cx="1353.6" cy="715.1" r="2.9" fill="#050505"/>
<circle cx="1356.8" cy="719.5" r="2.9" fill="#050505"/>
<circle cx="1359.4" cy="718.3" r="2.9" fill="#050505"/>
<circle cx="1363.0" cy="714.5" r="2.9" fill="#050505"/>
<circle cx="1366.4" cy="720.3" r="2.9" fill="#050505"/>
<circle cx="1369.9" cy="706.9" r="2.9" fill="#050505"/>
<circle cx="1373.0" cy="716.1" r="2.9" fill="#050505"/>
<circle cx="1375.3" cy="716.8" r="2.9" fill="#050505"/>
<circle cx="1379.3" cy="715.2" r="2.9" fill="#050505"/>
<circle cx="1381.4" cy="707.5" r="2.9" fill="#050505"/>
<circle cx="1385.3" cy="702.2" r="2.9" fill="#050505"/>
<circle cx="1387.6" cy="710.7" r="2.9" fill="#050505"/>
<circle cx="1391.0" cy="715.9" r="2.9" fill="#050505"/>
<circle cx="1393.7" cy="697.2" r="2.9" fill="#050505"/>
<circle cx="1397.8" cy="710.8" r="2.9" fill="#050505"/>
<circle cx="1400.9" cy="694.0" r="2.9" fill="#050505"/>
<circle cx="1403.1" cy="702.1" r="2.9" fill="#050505"/>
<circle cx="1406.7" cy="705.6" r="2.9" fill="#050505"/>
<circle cx="1409.5" cy="704.4" r="2.9" fill="#050505"/>
<circle cx="1412.9" cy="695.5" r="2.9" fill="#050505"/>
<circle cx="1416.1" cy="691.5" r="2.9" fill="#050505"/>
<circle cx="1418.6" cy="698.6" r="2.9" fill="#050505"/>
<circle cx="1422.7" cy="689.2" r="2.9" fill="#050505"/>
<circle cx="1425.0" cy="680.3" r="2.9" fill="#050505"/>
<circle cx="1428.4" cy="696.1" r="2.9" fill="#050505"/>
<circle cx="1431.0" cy="702.3" r="2.9" fill="#050505"/>
<circle cx="1434.0" cy="700.8" r="2.9" fill="#050505"/>
<circle cx="1437.4" cy="702.5" r="2.9" fill="#050505"/>
<circle cx="1440.7" cy="696.1" r="2.9" fill="#050505"/>
<circle cx="1444.6" cy="695.8" r="2.9" fill="#050505"/>
<circle cx="1447.6" cy="699.5" r="2.9" fill="#050505"/>
<circle cx="1450.2" cy="685.0" r="2.9" fill="#050505"/>
<circle cx="1453.2" cy="708.0" r="2.9" fill="#050505"/>
<circle cx="1456.6" cy="697.4" r="2.9" fill="#050505"/>
<circle cx="1460.0" cy="671.3" r="2.9" fill="#050505"/>
<circle cx="1462.4" cy="678.1" r="2.9" fill="#050505"/>
<circle cx="1466.1" cy="681.2" r="2.9" fill="#050505"/>
<circle cx="1468.7" cy="681.1" r="2.9" fill="#050505"/>
<circle cx="1472.1" cy="670.2" r="2.9" fill="#050505"/>
<circle cx="1475.4" cy="679.0" r="2.9" fill="#050505"/>
<circle cx="1478.2" cy="681.9" r="2.9" fill="#050505"/>
<circle cx="1481.5" cy="691.4" r="2.9" fill="#050505"/>
<circle cx="1484.7" cy="681.7" r="2.9" fill="#050505"/>
<circle cx="1486.9" cy="686.4" r="2.9" fill="#050505"/>
<circle cx="1490.0" cy="685.5" r="2.9" fill="#050505"/>
<circle cx="1493.3" cy="684.9" r="2.9" fill="#050505"/>
<circle cx="1496.5" cy="679.0" r="2.9" fill="#050505"/>
<circle cx="1499.6" cy="680.6" r="2.9" fill="#050505"/>
<circle cx="1502.5" cy="670.7" r="2.9" fill="#050505"/>
<circle cx="1505.8" cy="687.1" r="2.9" fill="#050505"/>
<circle cx="1509.4" cy="677.5" r="2.9" fill="#050505"/>
<circle cx="1512.9" cy="661.0" r="2.9" fill="#050505"/>
<circle cx="1515.3" cy="674.7" r="2.9" fill="#050505"/>
<circle cx="1518.4" cy="665.1" r="2.9" fill="#050505"/>
<circle cx="1521.6" cy="665.0" r="2.9" fill="#050505"/>
<circle cx="1525.1" cy="663.0" r="2.9" fill="#050505"/>
<circle cx="1528.3" cy="666.9" r="2.9" fill="#050505"/>
<circle cx="1531.6" cy="682.8" r="2.9" fill="#050505"/>
<circle cx="1534.0" cy="673.7" r="2.9" fill="#050505"/>
<circle cx="1537.5" cy="674.0" r="2.9" fill="#050505"/>
<circle cx="1540.2" cy="682.6" r="2.9" fill="#050505"/>
<circle cx="1543.9" cy="673.5" r="2.9" fill="#050505"/>
<circle cx="1546.2" cy="679.2" r="2.9" fill="#050505"/>
<circle cx="1550.2" cy="681.8" r="2.9" fill="#050505"/>
<circle cx="1552.8" cy="666.8" r="2.9" fill="#050505"/>
<circle cx="1556.2" cy="668.2" r="2.9" fill="#050505"/>
<circle cx="1559.1" cy="672.7" r="2.9" fill="#050505"/>
<circle cx="1561.9" cy="674.3" r="2.9" fill="#050505"/>
<circle cx="1565.2" cy="670.6" r="2.9" fill="#050505"/>
<circle cx="1567.8" cy="669.1" r="2.9" fill="#050505"/>
<circle cx="1570.9" cy="668.7" r="2.9" fill="#050505"/>
<circle cx="1574.6" cy="665.4" r="2.9" fill="#050505"/>
<circle cx="1577.7" cy="667.9" r="2.9" fill="#050505"/>
<circle cx="1581.2" cy="661.0" r="2.9" fill="#050505"/>
<circle cx="1583.3" cy="659.6" r="2.9" fill="#050505"/>
<circle cx="1587.1" cy="660.3" r="2.9" fill="#050505"/>
<circle cx="1590.1" cy="667.8" r="2.9" fill="#050505"/>
<circle cx="1593.4" cy="667.0" r="2.9" fill="#050505"/>
<circle cx="1596.6" cy="658.3" r="2.9" fill="#050505"/>
<circle cx="1599.5" cy="662.8" r="2.9" fill="#050505"/>
<circle cx="1602.6" cy="661.2" r="2.9" fill="#050505"/>
<circle cx="1605.7" cy="679.8" r="2.9" fill="#050505"/>
<circle cx="1608.9" cy="681.0" r="2.9" fill="#050505"/>
<circle cx="1611.6" cy="657.0" r="2.9" fill="#050505"/>
<circle cx="1615.1" cy="656.6" r="2.9" fill="#050505"/>
<circle cx="1618.3" cy="647.9" r="2.9" fill="#050505"/>
<circle cx="1620.8" cy="652.8" r="2.9" fill="#050505"/>
<circle cx="1625.0" cy="656.1" r="2.9" fill="#050505"/>
<circle cx="1627.8" cy="657.4" r="2.9" fill="#050505"/>
<circle cx="1631.2" cy="668.2" r="2.9" fill="#050505"/>
<circle cx="1633.4" cy="649.9" r="2.9" fill="#050505"/>
<circle cx="1636.7" cy="661.1" r="2.9" fill="#050505"/>
<circle cx="1639.6" cy="652.1" r="2.9" fill="#050505"/>
<circle cx="1642.4" cy="654.1" r="2.9" fill="#050505"/>
<circle cx="1645.4" cy="653.2" r="2.9" fill="#050505"/>
<circle cx="1648.9" cy="647.9" r="2.9" fill="#050505"/>
<circle cx="1652.8" cy="658.2" r="2.9" fill="#050505"/>
<circle cx="1655.0" cy="657.2" r="2.9" fill="#050505"/>
<circle cx="1658.8" cy="660.3" r="2.9" fill="#050505"/>
<circle cx="1661.3" cy="656.3" r="2.9" fill="#050505"/>
<circle cx="1664.2" cy="640.1" r="2.9" fill="#050505"/>
<circle cx="1667.4" cy="655.5" r="2.9" fill="#050505"/>
<circle cx="1671.2" cy="643.0" r="2.9" fill="#050505"/>
<circle cx="1674.1" cy="645.5" r="2.9" fill="#050505"/>
<circle cx="1677.3" cy="645.9" r="2.9" fill="#050505"/>
<circle cx="1680.2" cy="645.0" r="2.9" fill="#050505"/>
<circle cx="1683.1" cy="658.8" r="2.9" fill="#050505"/>
<circle cx="1686.5" cy="647.7" r="2.9" fill="#050505"/>
<circle cx="1690.2" cy="637.8" r="2.9" fill="#050505"/>
<circle cx="1692.3" cy="655.3" r="2.9" fill="#050505"/>
<circle cx="1696.2" cy="649.9" r="2.9" fill="#050505"/>
<circle cx="1698.6" cy="654.6" r="2.9" fill="#050505"/>
<circle cx="1701.7" cy="646.5" r="2.9" fill="#050505"/>
<circle cx="1704.9" cy="657.0" r="2.9" fill="#050505"/>
<circle cx="1707.7" cy="635.8" r="2.9" fill="#050505"/>
<circle cx="1676.3" cy="655.5" r="2.9" fill="#050505"/>
<circle cx="1664.7" cy="648.5" r="2.9" fill="#050505"/>
<circle cx="1693.3" cy="651.7" r="2.9" fill="#050505"/>
<circle cx="1699.3" cy="642.4" r="2.9" fill="#050505"/>
<circle cx="1665.4" cy="650.0" r="2.9" fill="#050505"/>
<circle cx="1661.9" cy="652.1" r="2.9" fill="#050505"/>
<circle cx="1681.6" cy="639.9" r="2.9" fill="#050505"/>
<circle cx="1661.0" cy="648.8" r="2.9" fill="#050505"/>
<circle cx="1704.9" cy="641.4" r="2.9" fill="#050505"/>
<circle cx="1700.0" cy="655.7" r="2.9" fill="#050505"/>
<circle cx="1699.1" cy="652.8" r="2.9" fill="#050505"/>
<circle cx="1675.6" cy="647.1" r="2.9" fill="#050505"/>
<circle cx="1696.4" cy="644.5" r="2.9" fill="#050505"/>
<circle cx="1674.5" cy="652.2" r="2.9" fill="#050505"/>
<circle cx="1678.2" cy="647.1" r="2.9" fill="#050505"/>
<circle cx="1658.6" cy="659.6" r="2.9" fill="#050505"/>
<circle cx="1654.8" cy="653.0" r="2.9" fill="#050505"/>
<circle cx="1690.0" cy="656.6" r="2.9" fill="#050505"/>
<circle cx="1663.5" cy="651.3" r="2.9" fill="#050505"/>
<circle cx="1705.9" cy="651.2" r="2.9" fill="#050505"/>
<circle cx="1684.1" cy="654.4" r="2.9" fill="#050505"/>
<circle cx="1684.8" cy="650.4" r="2.9" fill="#050505"/>
<circle cx="1702.4" cy="638.8" r="2.9" fill="#050505"/>
<circle cx="1669.3" cy="658.1" r="2.9" fill="#050505"/>
<circle cx="1653.4" cy="657.7" r="2.9" fill="#050505"/>
<circle cx="1665.0" cy="647.0" r="2.9" fill="#050505"/>
<circle cx="1678.2" cy="653.8" r="2.9" fill="#050505"/>
<circle cx="1661.2" cy="643.6" r="2.9" fill="#050505"/>
<circle cx="1668.3" cy="651.4" r="2.9" fill="#050505"/>
<circle cx="1693.7" cy="649.3" r="2.9" fill="#050505"/>
<circle cx="1673.7" cy="650.0" r="2.9" fill="#050505"/>
<circle cx="1671.7" cy="642.5" r="2.9" fill="#050505"/>
<circle cx="1665.7" cy="649.2" r="2.9" fill="#050505"/>
<circle cx="1682.3" cy="648.2" r="2.9" fill="#050505"/>
<circle cx="1708.0" cy="646.9" r="2.9" fill="#050505"/>
<polyline points="1086.4,1072.6 1088.5,1063.2 1090.6,1054.2 1092.6,1045.5 1094.7,1037.1 1096.8,1029.0 1098.9,1021.2 1101.0,1013.7 1103.0,1006.3 1105.1,999.3 1107.2,992.4 1109.3,985.8 1111.4,979.4 1113.4,973.2 1115.5,967.1 1117.6,961.3 1119.7,955.6 1121.8,950.1 1123.8,944.7 1125.9,939.5 1128.0,934.4 1130.1,929.5 1132.2,924.7 1134.2,920.0 1136.3,915.5 1138.4,911.1 1140.5,906.7 1142.6,902.5 1144.6,898.4 1146.7,894.4 1148.8,890.5 1150.9,886.7 1153.0,883.0 1155.0,879.4 1157.1,875.8 1159.2,872.3 1161.3,868.9 1163.4,865.6 1165.4,862.4 1167.5,859.2 1169.6,856.1 1171.7,853.1 1173.8,850.1 1175.8,847.2 1177.9,844.3 1180.0,841.6 1182.1,838.8 1184.2,836.1 1186.2,833.5 1188.3,830.9 1190.4,828.4 1192.5,825.9 1194.6,823.5 1196.6,821.1 1198.7,818.8 1200.8,816.5 1202.9,814.3 1205.0,812.1 1207.0,809.9 1209.1,807.8 1211.2,805.7 1213.3,803.6 1215.4,801.6 1217.4,799.6 1219.5,797.7 1221.6,795.7 1223.7,793.9 1225.8,792.0 1227.8,790.2 1229.9,788.4 1232.0,786.6 1234.1,784.9 1236.2,783.2 1238.2,781.5 1240.3,779.8 1242.4,778.2 1244.5,776.6 1246.5,775.0 1248.6,773.5 1250.7,772.0 1252.8,770.5 1254.9,769.0 1256.9,767.5 1259.0,766.1 1261.1,764.7 1263.2,763.3 1265.3,761.9 1267.3,760.5 1269.4,759.2 1271.5,757.9 1273.6,756.6 1275.7,755.3 1277.7,754.0 1279.8,752.8 1281.9,751.5 1284.0,750.3 1286.1,749.1 1288.1,747.9 1290.2,746.8 1292.3,745.6 1294.4,744.5 1296.5,743.4 1298.5,742.3 1300.6,741.2 1302.7,740.1 1304.8,739.0 1306.9,738.0 1308.9,736.9 1311.0,735.9 1313.1,734.9 1315.2,733.9 1317.3,732.9 1319.3,731.9 1321.4,731.0 1323.5,730.0 1325.6,729.1 1327.7,728.2 1329.7,727.2 1331.8,726.3 1333.9,725.4 1336.0,724.6 1338.1,723.7 1340.1,722.8 1342.2,722.0 1344.3,721.1 1346.4,720.3 1348.5,719.4 1350.5,718.6 1352.6,717.8 1354.7,717.0 1356.8,716.2 1358.9,715.4 1360.9,714.7 1363.0,713.9 1365.1,713.1 1367.2,712.4 1369.3,711.7 1371.3,710.9 1373.4,710.2 1375.5,709.5 1377.6,708.8 1379.7,708.1 1381.7,707.4 1383.8,706.7 1385.9,706.0 1388.0,705.3 1390.1,704.6 1392.1,704.0 1394.2,703.3 1396.3,702.7 1398.4,702.0 1400.5,701.4 1402.5,700.8 1404.6,700.1 1406.7,699.5 1408.8,698.9 1410.9,698.3 1412.9,697.7 1415.0,697.1 1417.1,696.5 1419.2,695.9 1421.3,695.4 1423.3,694.8 1425.4,694.2 1427.5,693.7 1429.6,693.1 1431.7,692.6 1433.7,692.0 1435.8,691.5 1437.9,690.9 1440.0,690.4 1442.1,689.9 1444.1,689.3 1446.2,688.8 1448.3,688.3 1450.4,687.8 1452.5,687.3 1454.5,686.8 1456.6,686.3 1458.7,685.8 1460.8,685.3 1462.9,684.8 1464.9,684.4 1467.0,683.9 1469.1,683.4 1471.2,683.0 1473.3,682.5 1475.3,682.0 1477.4,681.6 1479.5,681.1 1481.6,680.7 1483.7,680.2 1485.7,679.8 1487.8,679.4 1489.9,678.9 1492.0,678.5 1494.1,678.1 1496.1,677.6 1498.2,677.2 1500.3,676.8 1502.4,676.4 1504.5,676.0 1506.5,675.6 1508.6,675.2 1510.7,674.8 1512.8,674.4 1514.9,674.0 1516.9,673.6 1519.0,673.2 1521.1,672.8 1523.2,672.4 1525.3,672.1 1527.3,671.7 1529.4,671.3 1531.5,670.9 1533.6,670.6 1535.7,670.2 1537.7,669.9 1539.8,669.5 1541.9,669.1 1544.0,668.8 1546.1,668.4 1548.1,668.1 1550.2,667.7 1552.3,667.4 1554.4,667.0 1556.4,666.7 1558.5,666.4 1560.6,666.0 1562.7,665.7 1564.8,665.4 1566.8,665.1 1568.9,664.7 1571.0,664.4 1573.1,664.1 1575.2,663.8 1577.2,663.4 1579.3,663.1 1581.4,662.8 1583.5,662.5 1585.6,662.2 1587.6,661.9 1589.7,661.6 1591.8,661.3 1593.9,661.0 1596.0,660.7 1598.0,660.4 1600.1,660.1 1602.2,659.8 1604.3,659.5 1606.4,659.2 1608.4,659.0 1610.5,658.7 1612.6,658.4 1614.7,658.1 1616.8,657.8 1618.8,657.6 1620.9,657.3 1623.0,657.0 1625.1,656.7 1627.2,656.5 1629.2,656.2 1631.3,655.9 1633.4,655.7 1635.5,655.4 1637.6,655.2 1639.6,654.9 1641.7,654.6 1643.8,654.4 1645.9,654.1 1648.0,653.9 1650.0,653.6 1652.1,653.4 1654.2,653.1 1656.3,652.9 1658.4,652.6 1660.4,652.4 1662.5,652.1 1664.6,651.9 1666.7,651.7 1668.8,651.4 1670.8,651.2 1672.9,651.0 1675.0,650.7 1677.1,650.5 1679.2,650.3 1681.2,650.0 1683.3,649.8 1685.4,649.6 1687.5,649.4 1689.6,649.1 1691.6,648.9 1693.7,648.7 1695.8,648.5 1697.9,648.2 1700.0,648.0 1702.0,647.8 1704.1,647.6 1706.2,647.4 1708.3,647.2" fill="none" stroke="rgb(190,55,70)" stroke-width="2.2" opacity="0.85"/>
<rect x="1064.6" y="607.6" width="652.0" height="476.19999999999993" fill="none" stroke="#6a6a6a" stroke-width="2.4"/>
<line x1="1086.4" y1="1083.8" x2="1086.4" y2="1091.3" stroke="#474747" stroke-width="1.8"/>
<line x1="1141.9" y1="1083.8" x2="1141.9" y2="1087.8" stroke="#474747" stroke-width="1.8"/>
<line x1="1197.5" y1="1083.8" x2="1197.5" y2="1091.3" stroke="#474747" stroke-width="1.8"/>
<line x1="1253.0" y1="1083.8" x2="1253.0" y2="1087.8" stroke="#474747" stroke-width="1.8"/>
<line x1="1308.5" y1="1083.8" x2="1308.5" y2="1091.3" stroke="#474747" stroke-width="1.8"/>
<line x1="1364.0" y1="1083.8" x2="1364.0" y2="1087.8" stroke="#474747" stroke-width="1.8"/>
<line x1="1419.6" y1="1083.8" x2="1419.6" y2="1091.3" stroke="#474747" stroke-width="1.8"/>
<line x1="1475.1" y1="1083.8" x2="1475.1" y2="1087.8" stroke="#474747" stroke-width="1.8"/>
<line x1="1530.6" y1="1083.8" x2="1530.6" y2="1091.3" stroke="#474747" stroke-width="1.8"/>
<line x1="1586.1" y1="1083.8" x2="1586.1" y2="1087.8" stroke="#474747" stroke-width="1.8"/>
<line x1="1641.7" y1="1083.8" x2="1641.7" y2="1091.3" stroke="#474747" stroke-width="1.8"/>
<line x1="1697.2" y1="1083.8" x2="1697.2" y2="1087.8" stroke="#474747" stroke-width="1.8"/>
<line x1="1054.6" y1="1073.7" x2="1064.6" y2="1073.7" stroke="#474747" stroke-width="1.8"/>
<line x1="1060.1" y1="1018.2" x2="1064.6" y2="1018.2" stroke="#474747" stroke-width="1.8"/>
<line x1="1054.6" y1="962.7" x2="1064.6" y2="962.7" stroke="#474747" stroke-width="1.8"/>
<line x1="1060.1" y1="907.1" x2="1064.6" y2="907.1" stroke="#474747" stroke-width="1.8"/>
<line x1="1054.6" y1="851.6" x2="1064.6" y2="851.6" stroke="#474747" stroke-width="1.8"/>
<line x1="1060.1" y1="796.1" x2="1064.6" y2="796.1" stroke="#474747" stroke-width="1.8"/>
<line x1="1054.6" y1="740.6" x2="1064.6" y2="740.6" stroke="#474747" stroke-width="1.8"/>
<line x1="1060.1" y1="685.0" x2="1064.6" y2="685.0" stroke="#474747" stroke-width="1.8"/>
<line x1="1054.6" y1="629.5" x2="1064.6" y2="629.5" stroke="#474747" stroke-width="1.8"/>
<text x="1077.57" y="1117.91" style="font-family:'Liberation Sans',Arial,sans-serif;font-size:32.50px" textLength="17.54" lengthAdjust="spacingAndGlyphs" fill="#151515">0</text>
<text x="1188.15" y="1117.91" style="font-family:'Liberation Sans',Arial,sans-serif;font-size:32.50px" textLength="17.54" lengthAdjust="spacingAndGlyphs" fill="#151515">1</text>
<text x="1299.67" y="1118.08" style="font-family:'Liberation Sans',Arial,sans-serif;font-size:32.50px" textLength="17.54" lengthAdjust="spacingAndGlyphs" fill="#151515">2</text>
<text x="1410.88" y="1117.91" style="font-family:'Liberation Sans',Arial,sans-serif;font-size:32.50px" textLength="17.54" lengthAdjust="spacingAndGlyphs" fill="#151515">3</text>
<text x="1521.93" y="1118.08" style="font-family:'Liberation Sans',Arial,sans-serif;font-size:32.50px" textLength="17.54" lengthAdjust="spacingAndGlyphs" fill="#151515">4</text>
<text x="1632.98" y="1117.75" style="font-family:'Liberation Sans',Arial,sans-serif;font-size:32.50px" textLength="17.54" lengthAdjust="spacingAndGlyphs" fill="#151515">5</text>
<text x="1037.89" y="1088.31" style="font-family:'Liberation Sans',Arial,sans-serif;font-size:32.50px" textLength="17.45" lengthAdjust="spacingAndGlyphs" fill="#151515">0</text>
<text x="985.83" y="973.26" style="font-family:'Liberation Sans',Arial,sans-serif;font-size:32.50px" textLength="69.77" lengthAdjust="spacingAndGlyphs" fill="#151515">1000</text>
<text x="985.83" y="862.21" style="font-family:'Liberation Sans',Arial,sans-serif;font-size:32.50px" textLength="69.77" lengthAdjust="spacingAndGlyphs" fill="#151515">2000</text>
<text x="985.83" y="751.16" style="font-family:'Liberation Sans',Arial,sans-serif;font-size:32.50px" textLength="69.77" lengthAdjust="spacingAndGlyphs" fill="#151515">3000</text>
<text x="985.83" y="640.11" style="font-family:'Liberation Sans',Arial,sans-serif;font-size:32.50px" textLength="69.77" lengthAdjust="spacingAndGlyphs" fill="#151515">4000</text>
<text x="901.67" y="641.05" style="font-family:'Liberation Sans',Arial,sans-serif;font-size:43.09px;stroke-width:0" textLength="61.66" lengthAdjust="spacingAndGlyphs" fill="#151515" >(d)</text>
<text transform="translate(968.88,1053.80) rotate(-90)" x="0" y="0" style="font-family:'Liberation Sans',Arial,sans-serif;font-weight:bold;font-size:37.23px;stroke-width:0.25px" textLength="397.78" lengthAdjust="spacingAndGlyphs" fill="#151515">PL intensity (counts/s)</text>
<text x="1247.30" y="1151.79" style="font-family:'Liberation Sans',Arial,sans-serif;font-weight:bold;font-size:36.70px;stroke-width:0.25px" textLength="322.49" lengthAdjust="spacingAndGlyphs" fill="#151515" >Laser power (mW)</text>
</svg></div></body></html>
